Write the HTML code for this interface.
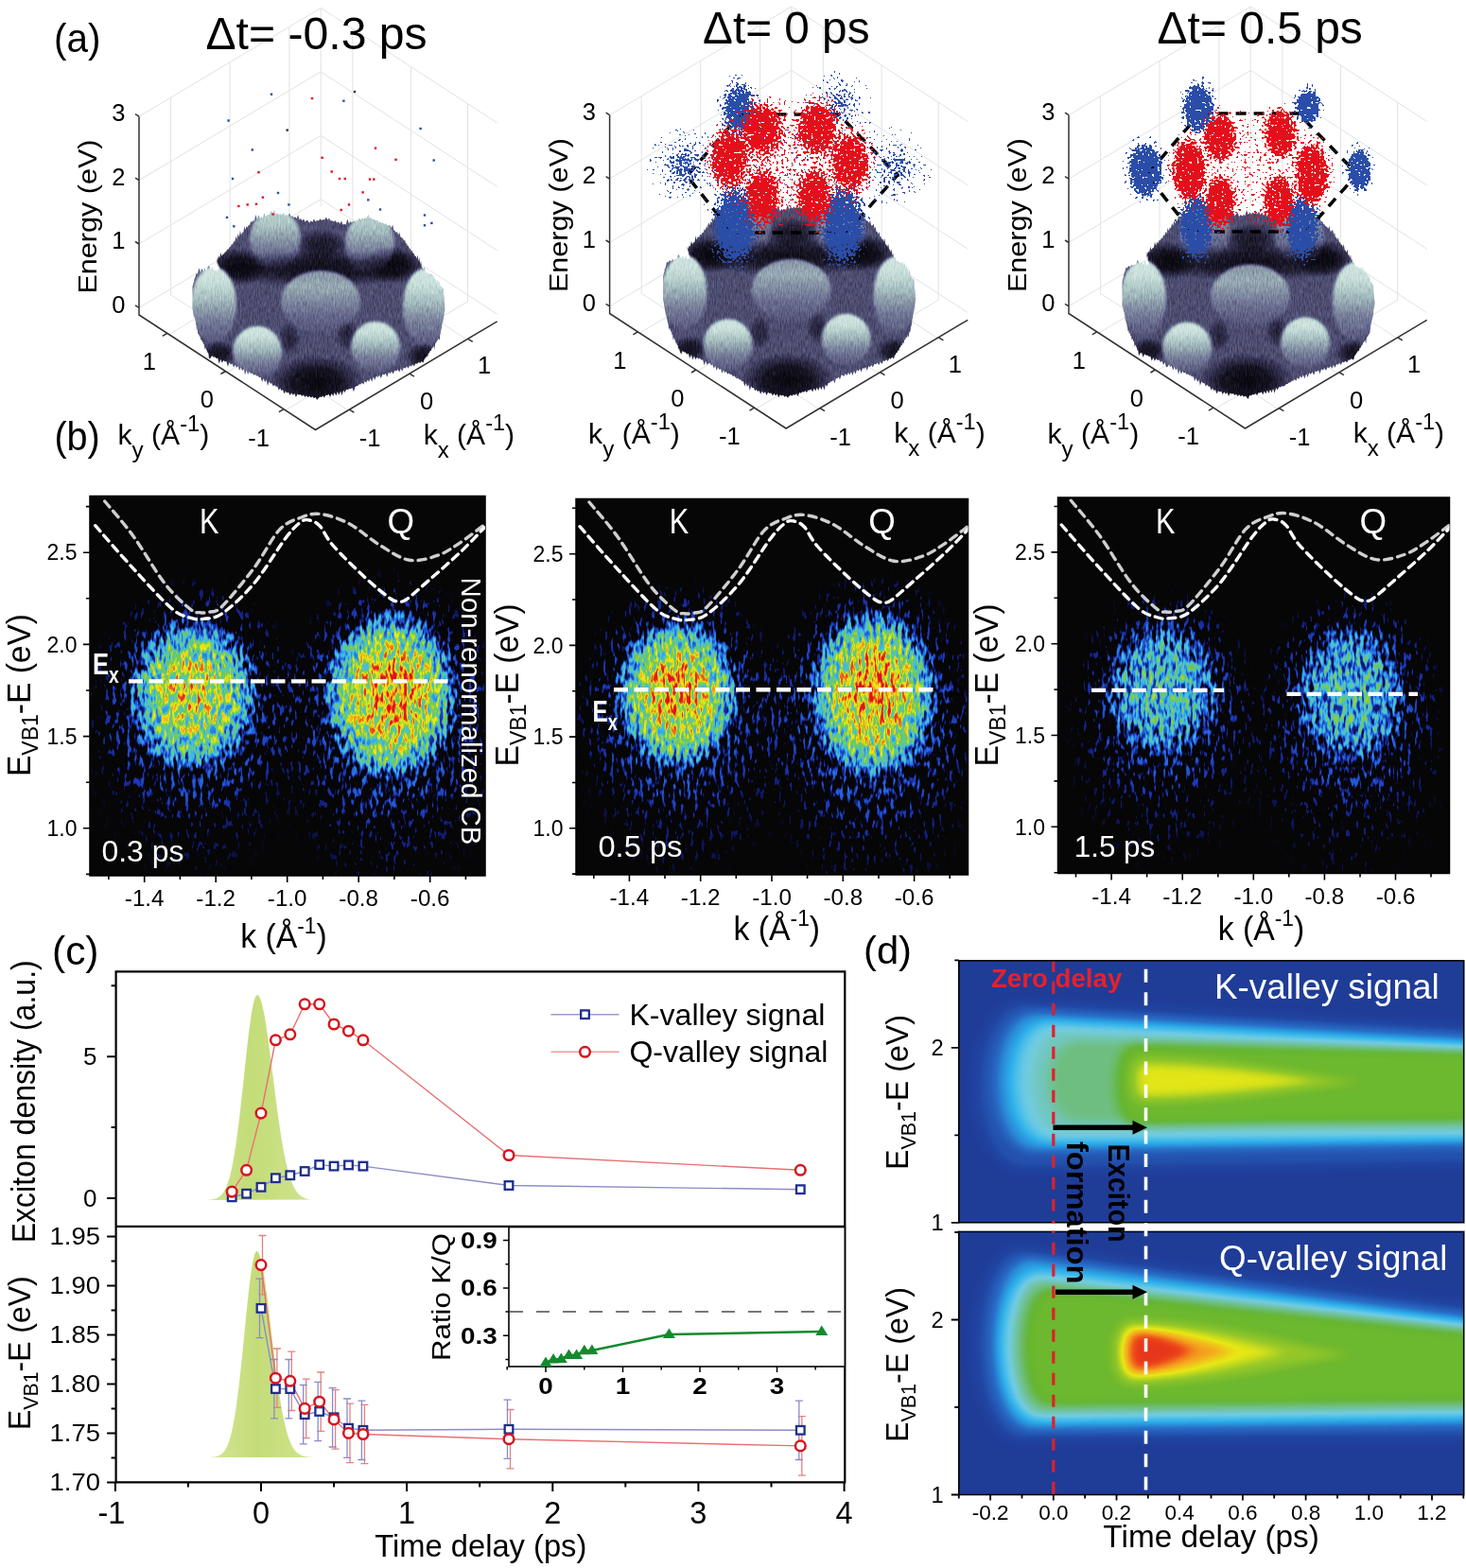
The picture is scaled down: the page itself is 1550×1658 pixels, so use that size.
<!DOCTYPE html>
<html><head><meta charset="utf-8"><title>Figure</title>
<style>
html,body{margin:0;padding:0;background:#fff;}
svg{display:block;}
text{font-family:"Liberation Sans", Arial, sans-serif;}
</style></head><body>
<svg width="1550" height="1658" viewBox="0 0 1550 1658">
<defs>
<linearGradient id="bump0" x1="0" y1="0" x2="0" y2="1"><stop offset="0.00" stop-color="#fff" stop-opacity="1.000"/><stop offset="0.20" stop-color="#fff" stop-opacity="0.930"/><stop offset="0.45" stop-color="#fff" stop-opacity="0.620"/><stop offset="0.70" stop-color="#fff" stop-opacity="0.300"/><stop offset="1.00" stop-color="#fff" stop-opacity="0.060"/></linearGradient>
<linearGradient id="bump1" x1="0" y1="0" x2="0" y2="1"><stop offset="0.00" stop-color="#fff" stop-opacity="0.800"/><stop offset="0.20" stop-color="#fff" stop-opacity="0.744"/><stop offset="0.45" stop-color="#fff" stop-opacity="0.496"/><stop offset="0.70" stop-color="#fff" stop-opacity="0.240"/><stop offset="1.00" stop-color="#fff" stop-opacity="0.048"/></linearGradient>
<linearGradient id="bump2" x1="0" y1="0" x2="0" y2="1"><stop offset="0.00" stop-color="#fff" stop-opacity="0.780"/><stop offset="0.20" stop-color="#fff" stop-opacity="0.725"/><stop offset="0.45" stop-color="#fff" stop-opacity="0.484"/><stop offset="0.70" stop-color="#fff" stop-opacity="0.234"/><stop offset="1.00" stop-color="#fff" stop-opacity="0.047"/></linearGradient>
<linearGradient id="bump3" x1="0" y1="0" x2="0" y2="1"><stop offset="0.00" stop-color="#fff" stop-opacity="0.640"/><stop offset="0.20" stop-color="#fff" stop-opacity="0.595"/><stop offset="0.45" stop-color="#fff" stop-opacity="0.397"/><stop offset="0.70" stop-color="#fff" stop-opacity="0.192"/><stop offset="1.00" stop-color="#fff" stop-opacity="0.038"/></linearGradient>
<linearGradient id="bump4" x1="0" y1="0" x2="0" y2="1"><stop offset="0.00" stop-color="#fff" stop-opacity="1.000"/><stop offset="0.20" stop-color="#fff" stop-opacity="0.930"/><stop offset="0.45" stop-color="#fff" stop-opacity="0.620"/><stop offset="0.70" stop-color="#fff" stop-opacity="0.300"/><stop offset="1.00" stop-color="#fff" stop-opacity="0.060"/></linearGradient>
<linearGradient id="bump5" x1="0" y1="0" x2="0" y2="1"><stop offset="0.00" stop-color="#fff" stop-opacity="1.000"/><stop offset="0.20" stop-color="#fff" stop-opacity="0.930"/><stop offset="0.45" stop-color="#fff" stop-opacity="0.620"/><stop offset="0.70" stop-color="#fff" stop-opacity="0.300"/><stop offset="1.00" stop-color="#fff" stop-opacity="0.060"/></linearGradient>
<linearGradient id="bump6" x1="0" y1="0" x2="0" y2="1"><stop offset="0.00" stop-color="#fff" stop-opacity="1.000"/><stop offset="0.20" stop-color="#fff" stop-opacity="0.930"/><stop offset="0.45" stop-color="#fff" stop-opacity="0.620"/><stop offset="0.70" stop-color="#fff" stop-opacity="0.300"/><stop offset="1.00" stop-color="#fff" stop-opacity="0.060"/></linearGradient>
<radialGradient id="dark"><stop offset="0.00" stop-color="#000" stop-opacity="1.000"/><stop offset="0.50" stop-color="#000" stop-opacity="0.750"/><stop offset="1.00" stop-color="#000" stop-opacity="0.000"/></radialGradient>
<filter id="bblur" x="-20%" y="-20%" width="140%" height="140%"><feGaussianBlur stdDeviation="1.6"/></filter>
<filter id="surf" filterUnits="userSpaceOnUse" x="190" y="200" width="295" height="230" color-interpolation-filters="sRGB"><feTurbulence type="fractalNoise" baseFrequency="0.9 0.16" numOctaves="2" seed="4" result="t"/><feColorMatrix in="t" type="matrix" values="1 0 0 0 0 1 0 0 0 0 1 0 0 0 0 0 0 0 0 1" result="n"/><feComposite in="SourceGraphic" in2="n" operator="arithmetic" k1="0" k2="1" k3="0.3" k4="-0.15" result="m"/><feComponentTransfer in="m"><feFuncR type="table" tableValues="0.039 0.054 0.069 0.083 0.105 0.127 0.150 0.173 0.196 0.225 0.253 0.282 0.310 0.338 0.364 0.390 0.415 0.441 0.466 0.492 0.517 0.543 0.569 0.596 0.622 0.648 0.674 0.699 0.725 0.750 0.775 0.799 0.824"/><feFuncG type="table" tableValues="0.031 0.046 0.061 0.075 0.097 0.120 0.142 0.165 0.188 0.218 0.249 0.279 0.309 0.339 0.370 0.401 0.431 0.463 0.497 0.531 0.564 0.600 0.636 0.673 0.710 0.746 0.771 0.795 0.820 0.843 0.863 0.882 0.902"/><feFuncB type="table" tableValues="0.055 0.079 0.104 0.128 0.162 0.198 0.234 0.270 0.306 0.342 0.378 0.414 0.450 0.484 0.510 0.537 0.563 0.587 0.604 0.621 0.639 0.659 0.683 0.707 0.730 0.754 0.772 0.790 0.809 0.827 0.847 0.867 0.886"/><feFuncA type="linear" slope="0" intercept="1"/></feComponentTransfer></filter>
<clipPath id="surfclip0"><path d="M203.5 302.6 L204 302 L204.5 298.8 L205 298.6 L205.4 294.2 L205.9 295.3 L206.4 292.8 L206.9 291.9 L207.4 289.1 L208.9 289.7 L210.4 283.4 L211.9 288.6 L213.4 283.7 L215 287.5 L216.5 284.1 L218 286.4 L219.5 283 L221 280.7 L222.6 285.6 L224.3 282.3 L225.9 286.1 L227.5 285.6 L229.1 286.7 L230.8 284.4 L232.4 285.9 L231.9 285.7 L231.3 279.6 L230.8 282.7 L230.3 277.8 L229.8 279.6 L229.2 274.8 L228.7 271.6 L229.9 275.4 L231 270.3 L232.2 273.1 L233.3 266.8 L234.5 270.8 L235.7 268.8 L236.8 268.5 L238 266.3 L239.1 266.2 L240.3 263.2 L241.4 263.7 L242.6 261.2 L243.7 261.1 L244.8 258.3 L246 258.5 L247.1 254.7 L248.2 256 L249.4 249.8 L250.5 253.4 L251.6 247 L252.8 250.8 L253.9 243.8 L255 248.2 L256.1 246 L257.3 245.6 L258.4 238.9 L259.5 243 L260.6 239.3 L261.8 240.5 L262.9 238.1 L264 237.9 L265.1 234.1 L266.3 235.3 L267.4 233.2 L268.9 233.4 L270.4 227.1 L271.9 232.2 L273.4 227.6 L274.9 231 L276.4 229.5 L277.8 229.9 L279.3 225.5 L280.8 228.7 L282.3 227.3 L283.8 227.5 L285.3 226.1 L286.8 222.9 L288.4 226.5 L290 221.9 L291.6 226.8 L293.2 224.9 L294.8 227.1 L296.5 226 L298.1 227.4 L299.7 225 L301.3 227.7 L302.9 226.9 L304.5 228 L306.1 225.5 L307.6 228.8 L309.1 228.6 L310.6 230 L312.1 229.3 L313.6 231.2 L315.1 227 L316.5 232.4 L318 231.1 L319.5 233.6 L321 231.3 L322.5 234.8 L324 233 L325.5 233.3 L327.1 235.7 L328.7 233.3 L330.3 235 L331.9 231.3 L333.5 234.4 L335.1 232.8 L336.8 233.7 L338.4 231.2 L340 233.1 L341.6 231.9 L343.2 232.4 L344.8 229.6 L346.4 232.6 L348 230.4 L349.6 233.6 L351.3 233.2 L352.9 234.5 L354.5 233.1 L356.1 235.5 L357.7 234.5 L359.4 236.5 L361 233.4 L362.6 237.4 L364.2 237.1 L365.8 237.4 L367.3 231.5 L368.9 236.5 L370.5 234.1 L372 235.5 L373.6 233.7 L375.2 234.5 L376.8 232.8 L378.3 233.6 L379.9 230.5 L381.5 232.6 L383 230.6 L384.6 231.6 L386.2 230.4 L387.7 230.7 L389.3 226.7 L390.9 230.8 L392.4 230.4 L394 232.1 L395.5 231.7 L397.1 233.4 L398.6 232.3 L400.2 234.7 L401.7 234.5 L403.3 236 L404.8 235.2 L406.4 237.2 L407.9 236.1 L409.5 238.5 L411 238.2 L412.6 238.4 L413.8 241 L415.1 237.6 L416.3 243.5 L417.5 243.7 L418.7 246 L420 245 L421.2 248.5 L422.4 245.6 L423.6 250.9 L424.9 251.2 L426.1 252.2 L427.1 254.7 L428 253.2 L429 257.4 L430 257.3 L430.9 260.1 L431.9 260.2 L432.9 262.7 L433.9 262.9 L434.8 265.4 L435.8 265 L436.8 268 L437.7 267.7 L438.7 270.7 L439.7 271.1 L440.6 273.4 L441.6 269.5 L442.5 276.2 L443.3 272 L444.2 279.2 L445 275.4 L445.9 282.2 L446.7 282.7 L447.6 285.2 L448.4 282.4 L449.3 285.2 L450.9 288.8 L452.4 288.1 L454 289.9 L455.5 289.5 L457.1 290.3 L458.1 292.5 L459 292.6 L460 295.2 L461 295.8 L461.9 298 L462.9 296.1 L463.9 300.7 L464.8 297.3 L465.8 303.5 L466.8 302.4 L467.7 306.2 L468.7 304 L468.9 309.2 L469 309.6 L469.2 312.4 L469.3 311.9 L469.5 315.6 L469.6 312 L469.8 318.9 L470 319.1 L470.1 320.5 L470.3 326.6 L470.4 323.7 L470.6 329.2 L470.3 326.9 L470 329.6 L469.7 330.2 L469.4 336 L469.1 333.5 L468.8 339 L468.5 336.7 L468.2 342.4 L467.9 340 L467.5 342.4 L467.2 343.2 L466.9 349.4 L466.6 346.5 L466.3 349.3 L466 349.8 L465.7 353.6 L465.4 353 L465.1 356.6 L464.8 360.1 L463.9 357.6 L463 359.8 L462.1 360.3 L461.1 362.5 L460.2 362.9 L459.3 369.8 L458.4 365.6 L457.5 367.7 L456.6 368.2 L455.6 370.9 L454.7 370.9 L453.8 373.6 L452.9 373.5 L452 377.4 L451.1 376.2 L450.1 378.5 L449.2 378.8 L448.3 381.1 L447.4 383.8 L445.8 382.1 L444.2 384.1 L442.7 383.1 L441.1 384.7 L439.5 384.2 L437.9 387.4 L436.4 385.4 L434.8 387.4 L433.2 386.4 L431.6 389.7 L430.1 387.6 L428.5 389.6 L426.9 388.7 L425.3 392.5 L423.8 389.8 L422.2 393.5 L420.6 390.8 L419 392.4 L417.4 391.8 L415.8 395.4 L414.1 392.7 L412.5 394.9 L410.9 393.7 L409.3 398.8 L407.7 394.7 L406.1 396.6 L404.5 395.6 L402.9 400 L401.3 396.6 L399.6 398.9 L398 397.6 L396.4 402.1 L394.8 398.5 L393.2 403.7 L391.7 399.8 L390.2 403.7 L388.7 401.4 L387.3 404.7 L385.8 403.1 L384.3 406.4 L382.8 404.7 L381.3 406.4 L379.8 406.3 L378.4 408 L376.9 408 L375.4 409.6 L373.9 414.3 L372.4 410 L370.8 411.3 L369.3 410.9 L367.7 412.2 L366.2 411.7 L364.6 415.2 L363.1 412.6 L361.5 418.3 L360 413.4 L358.4 417.8 L356.9 414.3 L355.3 418.4 L353.8 415.1 L352.2 418.9 L350.7 416 L349.1 420 L347.6 416.8 L346 418.1 L344.5 417.7 L342.9 420.5 L341.4 418.5 L339.8 420 L338.3 419.4 L336.7 420.9 L335.2 422.9 L333.6 419.9 L332 421.2 L330.4 419.3 L328.8 420.6 L327.2 418.8 L325.7 420.2 L324.1 418.2 L322.5 420 L320.9 417.6 L319.3 419 L317.7 417.1 L316.1 417.7 L314.5 416.5 L312.9 419.9 L311.3 415.9 L309.8 417.8 L308.2 415.4 L306.6 417.9 L305 414.8 L303.4 415.4 L301.9 413.7 L300.5 416.4 L299 412 L297.6 413.3 L296.1 410.3 L294.7 412.8 L293.2 408.6 L291.8 408.9 L290.3 406.9 L288.8 408.6 L287.4 405.2 L285.9 405.4 L284.5 403.5 L283 408 L281.6 401.8 L280.1 404.3 L278.6 400.3 L277.1 404 L275.6 398.8 L274.1 399.2 L272.6 397.3 L271.1 397.4 L269.6 395.9 L268.1 396.7 L266.6 394.4 L265.1 395.1 L263.6 393 L262.1 396 L260.6 391.5 L259.1 396.5 L257.6 390.1 L256.1 391.9 L254.6 388.6 L253.1 392.1 L251.6 387.1 L250.1 388.8 L248.6 385.8 L247 388.6 L245.5 384.6 L244 385.6 L242.4 383.3 L240.9 388.1 L239.4 382.1 L237.8 382.6 L236.3 380.9 L234.8 383.7 L233.3 379.7 L231.7 384.5 L230.2 378.5 L228.7 378.9 L227.1 377.2 L225.6 377.8 L224.1 376 L222.5 378.7 L221 379.3 L220.3 373.3 L219.6 373 L218.8 370.4 L218.1 370.3 L217.4 367.5 L216.7 369.5 L215.9 364.6 L215.2 364 L214.5 361.7 L213.8 361.5 L213 358.8 L212.3 359.8 L211.6 355.9 L210.8 355.2 L210.1 353 L209.4 353.3 L209 349.9 L208.7 349.2 L208.3 346.6 L207.9 350.3 L207.6 343.3 L207.2 344 L206.8 340 L206.4 339.6 L206.1 336.8 L205.7 336 L205.3 333.5 L205 336.8 L204.6 330.2 L204.2 333.8 L203.9 326.9 L203.5 329.1 L203.5 323.6 L203.5 323.2 L203.5 320.3 L203.5 317.3 L203.5 318.6 L203.5 315.8 L203.5 315.3 L203.5 308.2 L203.5 312 L203.5 308.1 L203.5 308.7 L203.5 305 L203.5 305.4Z"/></clipPath>
<g id="surface0"><g clip-path="url(#surfclip0)"><g filter="url(#surf)"><rect x="190" y="200" width="295" height="230" fill="#5e5e5e"/><ellipse cx="338" cy="284" rx="110" ry="20" fill="url(#dark)" opacity="0.85"/><ellipse cx="252" cy="282" rx="32" ry="20" fill="url(#dark)" opacity="1.00"/><ellipse cx="414" cy="280" rx="34" ry="20" fill="url(#dark)" opacity="1.00"/><ellipse cx="340" cy="260" rx="30" ry="18" fill="url(#dark)" opacity="0.70"/><ellipse cx="335" cy="405" rx="50" ry="30" fill="url(#dark)" opacity="1.00"/><ellipse cx="232" cy="374" rx="20" ry="14" fill="url(#dark)" opacity="0.80"/><ellipse cx="448" cy="376" rx="20" ry="14" fill="url(#dark)" opacity="0.80"/><ellipse cx="306" cy="358" rx="12" ry="18" fill="url(#dark)" opacity="0.50"/><ellipse cx="367" cy="354" rx="12" ry="18" fill="url(#dark)" opacity="0.50"/><ellipse cx="226" cy="322" rx="24" ry="40" fill="url(#bump0)" filter="url(#bblur)" opacity="1.00"/><ellipse cx="291" cy="253" rx="27" ry="31" fill="url(#bump1)" filter="url(#bblur)" opacity="1.00"/><ellipse cx="391" cy="257" rx="26" ry="31" fill="url(#bump2)" filter="url(#bblur)" opacity="1.00"/><ellipse cx="339" cy="319" rx="42" ry="33" fill="url(#bump3)" filter="url(#bblur)" opacity="1.00"/><ellipse cx="449" cy="325" rx="23" ry="41" fill="url(#bump4)" filter="url(#bblur)" opacity="1.00"/><ellipse cx="272" cy="372" rx="26" ry="27" fill="url(#bump5)" filter="url(#bblur)" opacity="1.00"/><ellipse cx="397" cy="367" rx="26" ry="27" fill="url(#bump6)" filter="url(#bblur)" opacity="1.00"/></g></g></g>
<clipPath id="surfclip1"><path d="M203.5 293.2 L203.9 292.7 L204.4 289.6 L204.8 289.4 L205.2 285.1 L205.7 286.2 L206.1 283.8 L206.5 283 L207 280.2 L207.4 278.6 L208.9 279.1 L210.4 276.6 L211.9 278 L213.4 275.4 L215 276.8 L216.5 275.3 L218 275.6 L219.5 270.4 L221 272.3 L222.6 274.7 L224.3 272 L225.9 275.3 L227.5 271.9 L229.1 275.9 L230.8 274.9 L232.4 275.7 L231.9 274.9 L231.3 271.5 L230.8 271.8 L230.3 265.6 L229.8 268.7 L229.2 262.1 L228.7 264 L229.9 264.4 L231 261.5 L232.2 262.1 L233.3 256.3 L234.5 259.8 L235.7 257.7 L236.8 257.5 L238 250.9 L239.1 255.2 L240.3 251.2 L241.4 252.7 L242.6 249.3 L243.7 250.1 L244.8 247.4 L246 247.5 L247.1 243.7 L248.2 245 L249.4 240.5 L250.5 242.4 L251.6 236.6 L252.8 239.8 L253.9 235.4 L255 237.2 L256.1 231.4 L257.3 234.6 L258.4 228.4 L259.5 232 L260.6 227.4 L261.8 229.5 L262.9 223.9 L264 226.9 L265.1 224.4 L266.3 224.3 L267.4 218.6 L268.9 222.4 L270.4 221 L271.9 221.2 L273.4 219 L274.9 220 L276.4 218.2 L277.8 218.9 L279.3 213.7 L280.8 217.7 L282.3 214.4 L283.8 216.5 L285.3 212.5 L286.8 214 L288.4 215.5 L290 210 L291.6 215.8 L293.2 210.1 L294.8 216.1 L296.5 215.4 L298.1 216.4 L299.7 215.8 L301.3 216.7 L302.9 215.3 L304.5 217 L306.1 216.3 L307.6 217.8 L309.1 213.8 L310.6 219 L312.1 214.2 L313.6 220.2 L315.1 219.3 L316.5 221.4 L318 219.8 L319.5 222.6 L321 220.6 L322.5 223.8 L324 221.7 L325.5 219.8 L327.1 224.7 L328.7 222.6 L330.3 224 L331.9 222.6 L333.5 223.4 L335.1 217.5 L336.8 222.7 L338.4 220.1 L340 222.1 L341.6 220.1 L343.2 221.4 L344.8 220.3 L346.4 221.6 L348 219.3 L349.6 222.6 L351.3 220.3 L352.9 223.5 L354.5 220.9 L356.1 224.5 L357.7 221.7 L359.4 225.5 L361 225.1 L362.6 226.4 L364.2 223.8 L365.8 226.4 L367.3 224.8 L368.9 225.5 L370.5 222.4 L372 224.5 L373.6 222.6 L375.2 223.5 L376.8 221.6 L378.3 222.6 L379.9 220.8 L381.5 221.6 L383 217.3 L384.6 220.6 L386.2 217.7 L387.7 219.7 L389.3 217.9 L390.9 219.8 L392.4 216.4 L394 221.1 L395.5 220.8 L397.1 222.4 L398.6 219.8 L400.2 223.7 L401.7 223 L403.3 225 L404.8 221.3 L406.4 226.2 L407.9 222.4 L409.5 227.5 L411 226.8 L412.6 225.9 L413.8 230 L415.1 229.5 L416.3 232.5 L417.5 232.9 L418.7 235 L420 235.2 L421.2 237.5 L422.4 234.4 L423.6 239.9 L424.9 240 L426.1 238.3 L427.1 243.7 L428 241 L429 246.4 L430 246.8 L430.9 249.1 L431.9 246.4 L432.9 251.7 L433.9 251.7 L434.8 254.4 L435.8 254 L436.8 257 L437.7 253.3 L438.7 259.7 L439.7 260.2 L440.6 262.4 L441.6 259 L442.5 265.2 L443.3 265 L444.2 268.3 L445 264.8 L445.9 271.4 L446.7 269.4 L447.6 274.5 L448.4 273 L449.3 275.4 L450.9 278.2 L452.4 277.4 L454 279.4 L455.5 279.2 L457.1 278.2 L458 282.1 L458.9 279.4 L459.8 284.8 L460.7 281.3 L461.6 287.5 L462.5 283.9 L463.3 290.3 L464.2 286.8 L465.1 293 L466 293.6 L466.9 295.8 L467.8 296.2 L468.7 297.3 L468.8 300.1 L469 299.6 L469.1 303.3 L469.3 299.7 L469.4 306.5 L469.6 306.8 L469.7 309.8 L469.9 306.9 L470 313 L470.2 310.7 L470.3 316.2 L470.5 316.8 L470.6 317.2 L470.3 319.4 L470 321.9 L469.8 322.6 L469.5 329.2 L469.2 325.8 L468.9 331.6 L468.7 329 L468.4 333.3 L468.1 332.1 L467.8 334.6 L467.6 335.3 L467.3 338.1 L467 338.5 L466.7 341.8 L466.5 341.7 L466.2 347.1 L465.9 344.9 L465.6 347.3 L465.4 348.1 L465.1 350.6 L464.8 352.1 L463.9 352.7 L463.1 358.5 L462.2 355.4 L461.3 358.8 L460.4 358.1 L459.6 360.8 L458.7 360.8 L457.8 365.1 L457 363.6 L456.1 366.4 L455.2 366.3 L454.4 369 L453.5 369 L452.6 372.7 L451.8 371.7 L450.9 374.6 L450 374.4 L449.1 376.8 L448.3 377.2 L447.4 381.2 L445.8 379.1 L444.2 381.2 L442.7 380.3 L441.1 383.6 L439.5 381.5 L437.9 383.6 L436.4 382.7 L434.8 386.6 L433.2 383.9 L431.6 387.7 L430.1 385.1 L428.5 386.8 L426.9 386.3 L425.3 390.1 L423.8 387.4 L422.2 389.7 L420.7 388.5 L419.1 393.7 L417.6 389.5 L416.1 391.5 L414.6 390.5 L413 394.9 L411.5 391.5 L410 393.9 L408.5 392.5 L406.9 397.1 L405.4 393.5 L403.9 398.7 L402.4 394.5 L400.8 398 L399.3 395.5 L397.8 398.4 L396.3 396.5 L394.7 399.5 L393.2 398.2 L391.8 398.3 L390.4 402.9 L389.1 399.9 L387.7 401.6 L386.3 401.5 L384.9 407 L383.5 403.2 L382.2 404.8 L380.8 404.8 L379.4 406.5 L378 406.4 L376.7 410.3 L375.3 408.1 L373.9 414.2 L372.4 409.4 L370.8 413.8 L369.3 410.3 L367.7 414.5 L366.2 411.2 L364.6 415 L363.1 412.1 L361.5 416.1 L360 413 L358.4 414.2 L356.9 413.9 L355.3 416.7 L353.8 414.8 L352.2 416.3 L350.7 415.7 L349.1 417.2 L347.6 416.6 L346 420.7 L344.5 417.5 L342.9 419.4 L341.4 418.4 L339.8 420.3 L338.3 419.3 L336.7 420.6 L335.2 422.3 L333.6 419.9 L332 421.3 L330.4 419.3 L328.8 419.9 L327.2 418.7 L325.7 422.1 L324.1 418.1 L322.5 419.9 L320.9 417.5 L319.3 420.1 L317.7 416.9 L316.1 417.5 L314.5 416.3 L312.9 419.6 L311.3 415.7 L309.8 417.5 L308.2 415.1 L306.6 418.2 L305 414.5 L303.4 415.4 L302 413.3 L300.7 415 L299.3 411.6 L297.9 411.8 L296.5 409.9 L295.2 414.4 L293.8 408.2 L292.4 410.6 L291.1 406.5 L289.7 410.1 L288.3 404.8 L287 405.1 L285.6 403 L284.2 403 L282.8 401.3 L281.5 402 L280.1 400.6 L278.7 398.9 L277.2 399.4 L275.8 397.4 L274.4 397.5 L273 395.9 L271.5 397.1 L270.1 394.3 L268.7 395.5 L267.2 392.8 L265.8 396.3 L264.4 391.3 L263 392.5 L261.5 389.8 L260.1 393.6 L258.7 388.3 L257.2 391.1 L255.8 386.8 L254.4 388 L253 385.3 L251.5 385.7 L250.1 387.2 L248.6 383.2 L247 387.9 L245.5 381.8 L244 382.3 L242.4 380.5 L240.9 381 L239.4 379.2 L237.8 381.8 L236.3 377.9 L234.8 382.1 L233.3 376.6 L231.7 380.5 L230.2 375.2 L228.7 376.3 L227.1 373.9 L225.6 374.1 L224.1 372.6 L222.5 376.2 L221 372.5 L220.3 369.8 L219.6 370.8 L219 366.8 L218.3 366.2 L217.6 363.9 L216.9 364.2 L216.2 360.9 L215.5 360.5 L214.9 358 L214.2 361.8 L213.5 355 L212.8 355.8 L212.1 352 L211.4 351.7 L210.8 349.1 L210.1 348.4 L209.4 350.8 L209.1 344.5 L208.7 343.8 L208.4 341.4 L208.1 341.3 L207.8 338.2 L207.4 340.3 L207.1 335.1 L206.8 336.6 L206.4 331.9 L206.1 334.4 L205.8 328.8 L205.5 330.9 L205.1 325.7 L204.8 327.1 L204.5 322.5 L204.2 321.8 L203.8 319.4 L203.5 318 L203.5 317.7 L203.5 312.9 L203.5 314.4 L203.5 311.7 L203.5 311 L203.5 306.6 L203.5 307.7 L203.5 301.3 L203.5 304.3 L203.5 301.8 L203.5 301 L203.5 298.4 L203.5 297.7 L203.5 292.6Z"/></clipPath>
<g id="surface1"><g clip-path="url(#surfclip1)"><g filter="url(#surf)"><rect x="190" y="200" width="295" height="230" fill="#5e5e5e"/><ellipse cx="338" cy="273.1" rx="110" ry="20" fill="url(#dark)" opacity="0.85"/><ellipse cx="252" cy="271" rx="32" ry="20" fill="url(#dark)" opacity="1.00"/><ellipse cx="414" cy="269" rx="34" ry="20" fill="url(#dark)" opacity="1.00"/><ellipse cx="340" cy="249" rx="30" ry="18" fill="url(#dark)" opacity="0.70"/><ellipse cx="335" cy="403.9" rx="50" ry="30" fill="url(#dark)" opacity="1.00"/><ellipse cx="232" cy="370.4" rx="20" ry="14" fill="url(#dark)" opacity="0.80"/><ellipse cx="448" cy="372.5" rx="20" ry="14" fill="url(#dark)" opacity="0.80"/><ellipse cx="306" cy="353.1" rx="12" ry="18" fill="url(#dark)" opacity="0.50"/><ellipse cx="367" cy="348.7" rx="12" ry="18" fill="url(#dark)" opacity="0.50"/><ellipse cx="226" cy="311" rx="24" ry="40" fill="url(#bump0)" filter="url(#bblur)" opacity="1.00"/><ellipse cx="291" cy="242" rx="27" ry="31" fill="url(#bump1)" filter="url(#bblur)" opacity="0.55"/><ellipse cx="391" cy="246" rx="26" ry="31" fill="url(#bump2)" filter="url(#bblur)" opacity="0.55"/><ellipse cx="339" cy="308.2" rx="42" ry="33" fill="url(#bump3)" filter="url(#bblur)" opacity="1.00"/><ellipse cx="449" cy="314.1" rx="23" ry="41" fill="url(#bump4)" filter="url(#bblur)" opacity="1.00"/><ellipse cx="272" cy="366" rx="26" ry="27" fill="url(#bump5)" filter="url(#bblur)" opacity="1.00"/><ellipse cx="397" cy="360.6" rx="26" ry="27" fill="url(#bump6)" filter="url(#bblur)" opacity="1.00"/></g></g></g>
<clipPath id="surfclip2"><path d="M203.5 298.3 L203.9 297.9 L204.4 294.8 L204.8 294.8 L205.2 290.5 L205.7 291.7 L206.1 289.3 L206.5 288.5 L207 285.9 L207.4 284.4 L208.9 284.9 L210.4 282.4 L211.9 283.7 L213.4 281.2 L215 282.6 L216.5 281.1 L218 281.5 L219.5 276.4 L221 278.2 L222.6 280.6 L224.3 277.9 L225.9 281.2 L227.5 277.8 L229.1 281.8 L230.8 280.8 L232.4 281.5 L231.9 280.8 L231.3 277.3 L230.8 277.7 L230.3 271.5 L229.8 274.7 L229.2 268.1 L228.7 270 L229.9 270.4 L231 267.5 L232.2 268.1 L233.3 262.3 L234.5 265.8 L235.7 263.7 L236.8 263.5 L238 256.9 L239.1 261.2 L240.3 257.2 L241.4 258.7 L242.6 255.3 L243.7 256.1 L244.8 253.4 L246 253.5 L247.1 249.7 L248.2 251 L249.4 246.5 L250.5 248.4 L251.6 242.6 L252.8 245.8 L253.9 241.4 L255 243.2 L256.1 237.4 L257.3 240.6 L258.4 234.4 L259.5 238 L260.6 233.4 L261.8 235.5 L262.9 229.9 L264 232.9 L265.1 230.4 L266.3 230.3 L267.4 224.6 L268.9 228.4 L270.4 227 L271.9 227.2 L273.4 225 L274.9 226 L276.4 224.2 L277.8 224.9 L279.3 219.7 L280.8 223.7 L282.3 220.4 L283.8 222.5 L285.3 218.5 L286.8 220 L288.4 221.5 L290 216 L291.6 221.8 L293.2 216.1 L294.8 222.1 L296.5 221.4 L298.1 222.4 L299.7 221.8 L301.3 222.7 L302.9 221.3 L304.5 223 L306.1 222.3 L307.6 223.8 L309.1 219.8 L310.6 225 L312.1 220.2 L313.6 226.2 L315.1 225.3 L316.5 227.4 L318 225.8 L319.5 228.6 L321 226.6 L322.5 229.8 L324 227.7 L325.5 225.8 L327.1 230.7 L328.7 228.6 L330.3 230 L331.9 228.6 L333.5 229.4 L335.1 223.5 L336.8 228.7 L338.4 226.1 L340 228.1 L341.6 226.1 L343.2 227.4 L344.8 226.3 L346.4 227.6 L348 225.3 L349.6 228.6 L351.3 226.3 L352.9 229.5 L354.5 226.9 L356.1 230.5 L357.7 227.7 L359.4 231.5 L361 231.1 L362.6 232.4 L364.2 229.8 L365.8 232.4 L367.3 230.8 L368.9 231.5 L370.5 228.4 L372 230.5 L373.6 228.6 L375.2 229.5 L376.8 227.6 L378.3 228.6 L379.9 226.8 L381.5 227.6 L383 223.3 L384.6 226.6 L386.2 223.7 L387.7 225.7 L389.3 223.9 L390.9 225.8 L392.4 222.4 L394 227.1 L395.5 226.8 L397.1 228.4 L398.6 225.8 L400.2 229.7 L401.7 229 L403.3 231 L404.8 227.3 L406.4 232.2 L407.9 228.4 L409.5 233.5 L411 232.8 L412.6 231.9 L413.8 236 L415.1 235.5 L416.3 238.5 L417.5 238.9 L418.7 241 L420 241.2 L421.2 243.5 L422.4 240.4 L423.6 245.9 L424.9 246 L426.1 244.3 L427.1 249.7 L428 247 L429 252.4 L430 252.8 L430.9 255.1 L431.9 252.4 L432.9 257.7 L433.9 257.7 L434.8 260.4 L435.8 260 L436.8 263 L437.7 259.3 L438.7 265.7 L439.7 266.2 L440.6 268.4 L441.6 265 L442.5 271.2 L443.3 271 L444.2 274.3 L445 270.7 L445.9 277.3 L446.7 275.2 L447.6 280.3 L448.4 278.8 L449.3 281.2 L450.9 284 L452.4 283.2 L454 285.2 L455.5 284.9 L457.1 283.8 L458.1 287.8 L459 285.1 L460 290.6 L461 287.2 L461.9 293.5 L462.9 289.9 L463.9 296.3 L464.8 292.9 L465.8 299.2 L466.8 299.8 L467.7 302 L468.7 302.5 L468.9 305.1 L469 303.8 L469.2 308.5 L469.3 308.5 L469.5 311.8 L469.6 310.8 L469.8 315.1 L470 315.7 L470.1 318.5 L470.3 318.2 L470.4 320.2 L470.6 323.3 L470.3 323.5 L470 327.3 L469.7 326.7 L469.4 329.3 L469.2 329.9 L468.9 336.6 L468.6 333.1 L468.3 338.9 L468 336.3 L467.7 340.7 L467.4 339.6 L467.1 342 L466.8 342.8 L466.5 345.5 L466.2 346 L466 349.3 L465.7 349.2 L465.4 354.6 L465.1 352.4 L464.8 354.8 L463.9 355.4 L463 357.7 L462.1 358.1 L461.1 365.1 L460.2 360.9 L459.3 363.1 L458.4 363.6 L457.5 366.3 L456.6 366.4 L455.6 369.2 L454.7 369.2 L453.8 373 L452.9 371.9 L452 374.3 L451.1 374.7 L450.1 376.9 L449.2 377.4 L448.3 382.1 L447.4 381.7 L445.8 380.7 L444.2 382.3 L442.7 381.9 L441.1 385.1 L439.5 383 L437.9 385.1 L436.4 384.1 L434.8 387.5 L433.2 385.3 L431.6 387.3 L430.1 386.4 L428.5 390.3 L426.9 387.6 L425.3 391.3 L423.8 388.7 L422.2 390.4 L420.6 389.8 L419 393.5 L417.4 390.8 L415.8 393 L414.1 391.8 L412.5 396.9 L410.9 392.8 L409.3 394.8 L407.7 393.8 L406.1 398.2 L404.5 394.8 L402.9 397.2 L401.3 395.8 L399.6 400.4 L398 396.8 L396.4 402 L394.8 397.8 L393.2 401.3 L391.7 399.1 L390.2 402.4 L388.7 400.8 L387.3 404.2 L385.8 402.5 L384.3 404.3 L382.8 404.2 L381.3 405.9 L379.8 405.9 L378.4 407.6 L376.9 407.6 L375.4 409.4 L373.9 410.1 L372.4 409.7 L370.8 411 L369.3 410.6 L367.7 414.1 L366.2 411.5 L364.6 417.2 L363.1 412.3 L361.5 416.8 L360 413.2 L358.4 417.4 L356.9 414.1 L355.3 417.9 L353.8 415 L352.2 419 L350.7 415.8 L349.1 417.1 L347.6 416.7 L346 419.5 L344.5 417.6 L342.9 419.1 L341.4 418.5 L339.8 420 L338.3 419.3 L336.7 423.4 L335.2 421.8 L333.6 419.9 L332 421.2 L330.4 419.3 L328.8 420.7 L327.2 418.7 L325.7 420.5 L324.1 418.2 L322.5 419.5 L320.9 417.6 L319.3 418.2 L317.7 417 L316.1 420.4 L314.5 416.4 L312.9 418.3 L311.3 415.8 L309.8 418.4 L308.2 415.2 L306.6 415.9 L305 414.7 L303.4 418 L301.9 413.5 L300.5 414.8 L299 411.7 L297.6 414.2 L296.1 410 L294.7 410.3 L293.2 408.2 L291.8 409.9 L290.3 406.5 L288.8 406.7 L287.4 404.7 L285.9 409.2 L284.5 403 L283 405.4 L281.6 401.2 L280.1 404.8 L278.7 399.6 L277.2 400.1 L275.8 398.2 L274.4 398.3 L273 396.8 L271.5 397.6 L270.1 395.3 L268.7 396.1 L267.2 393.9 L265.8 397 L264.4 392.4 L263 397.4 L261.5 391 L260.1 392.9 L258.7 389.6 L257.2 393.1 L255.8 388.1 L254.4 389.7 L253 386.7 L251.5 389.3 L250.1 389.7 L248.6 384.6 L247 387.5 L245.5 383.3 L244 384.6 L242.4 382.1 L240.9 382.5 L239.4 380.8 L237.8 383.2 L236.3 379.5 L234.8 383.3 L233.3 378.3 L231.7 378.6 L230.2 377 L228.7 377.3 L227.1 375.7 L225.6 379.6 L224.1 374.5 L222.5 375 L221 377.7 L220.3 371.7 L219.6 371.9 L218.8 368.7 L218.1 368 L217.4 365.7 L216.7 368.4 L215.9 362.6 L215.2 362.6 L214.5 359.6 L213.8 361.2 L213 356.6 L212.3 356.4 L211.6 353.6 L210.8 354 L210.1 350.6 L209.4 351.6 L209.1 347.4 L208.7 347.4 L208.4 344.3 L208 343.5 L207.7 341.1 L207.3 342.5 L207 337.9 L206.6 341 L206.3 334.7 L205.9 333.9 L205.6 331.5 L205.2 331.4 L204.9 328.3 L204.5 330.3 L204.2 325.1 L203.8 326.6 L203.5 324.8 L203.5 320.3 L203.5 319.1 L203.5 318.7 L203.5 311.6 L203.5 315.5 L203.5 311.6 L203.5 312.3 L203.5 308.6 L203.5 309.1 L203.5 304.1 L203.5 305.8 L203.5 301.8 L203.5 302.6 L203.5 298.2Z"/></clipPath>
<g id="surface2"><g clip-path="url(#surfclip2)"><g filter="url(#surf)"><rect x="190" y="200" width="295" height="230" fill="#5e5e5e"/><ellipse cx="338" cy="279" rx="110" ry="20" fill="url(#dark)" opacity="0.85"/><ellipse cx="252" cy="277" rx="32" ry="20" fill="url(#dark)" opacity="1.00"/><ellipse cx="414" cy="275" rx="34" ry="20" fill="url(#dark)" opacity="1.00"/><ellipse cx="340" cy="255" rx="30" ry="18" fill="url(#dark)" opacity="0.70"/><ellipse cx="335" cy="404.5" rx="50" ry="30" fill="url(#dark)" opacity="1.00"/><ellipse cx="232" cy="372.3" rx="20" ry="14" fill="url(#dark)" opacity="0.80"/><ellipse cx="448" cy="374.4" rx="20" ry="14" fill="url(#dark)" opacity="0.80"/><ellipse cx="306" cy="355.8" rx="12" ry="18" fill="url(#dark)" opacity="0.50"/><ellipse cx="367" cy="351.6" rx="12" ry="18" fill="url(#dark)" opacity="0.50"/><ellipse cx="226" cy="317" rx="24" ry="40" fill="url(#bump0)" filter="url(#bblur)" opacity="1.00"/><ellipse cx="291" cy="248" rx="27" ry="31" fill="url(#bump1)" filter="url(#bblur)" opacity="0.55"/><ellipse cx="391" cy="252" rx="26" ry="31" fill="url(#bump2)" filter="url(#bblur)" opacity="0.55"/><ellipse cx="339" cy="314.1" rx="42" ry="33" fill="url(#bump3)" filter="url(#bblur)" opacity="1.00"/><ellipse cx="449" cy="320" rx="23" ry="41" fill="url(#bump4)" filter="url(#bblur)" opacity="1.00"/><ellipse cx="272" cy="369.3" rx="26" ry="27" fill="url(#bump5)" filter="url(#bblur)" opacity="1.00"/><ellipse cx="397" cy="364.1" rx="26" ry="27" fill="url(#bump6)" filter="url(#bblur)" opacity="1.00"/></g></g></g>
<filter id="sc00" filterUnits="userSpaceOnUse" x="670" y="40" width="320" height="260" color-interpolation-filters="sRGB"><feTurbulence type="fractalNoise" baseFrequency="0.38" numOctaves="1" seed="21" result="t"/><feColorMatrix in="t" type="matrix" values="0 0 0 0 0 0 0 0 0 0 0 0 0 0 0 2.6 0 0 0 -0.8" result="na"/><feComposite in="SourceAlpha" in2="na" operator="arithmetic" k1="0" k2="1" k3="-1" k4="0.46" result="d"/><feComponentTransfer in="d" result="th"><feFuncA type="discrete" tableValues="0 1"/></feComponentTransfer><feFlood flood-color="#2a4da8"/><feComposite operator="in" in2="th"/></filter>
<radialGradient id="sd000"><stop offset="0.000" stop-color="#000" stop-opacity="0.130"/><stop offset="0.300" stop-color="#000" stop-opacity="0.111"/><stop offset="0.550" stop-color="#000" stop-opacity="0.065"/><stop offset="0.750" stop-color="#000" stop-opacity="0.029"/><stop offset="0.900" stop-color="#000" stop-opacity="0.009"/><stop offset="1.000" stop-color="#000" stop-opacity="0.000"/></radialGradient>
<radialGradient id="sd001"><stop offset="0.000" stop-color="#000" stop-opacity="0.130"/><stop offset="0.300" stop-color="#000" stop-opacity="0.111"/><stop offset="0.550" stop-color="#000" stop-opacity="0.065"/><stop offset="0.750" stop-color="#000" stop-opacity="0.029"/><stop offset="0.900" stop-color="#000" stop-opacity="0.009"/><stop offset="1.000" stop-color="#000" stop-opacity="0.000"/></radialGradient>
<radialGradient id="sd002"><stop offset="0.000" stop-color="#000" stop-opacity="0.130"/><stop offset="0.300" stop-color="#000" stop-opacity="0.111"/><stop offset="0.550" stop-color="#000" stop-opacity="0.065"/><stop offset="0.750" stop-color="#000" stop-opacity="0.029"/><stop offset="0.900" stop-color="#000" stop-opacity="0.009"/><stop offset="1.000" stop-color="#000" stop-opacity="0.000"/></radialGradient>
<radialGradient id="sd003"><stop offset="0.000" stop-color="#000" stop-opacity="0.130"/><stop offset="0.300" stop-color="#000" stop-opacity="0.111"/><stop offset="0.550" stop-color="#000" stop-opacity="0.065"/><stop offset="0.750" stop-color="#000" stop-opacity="0.029"/><stop offset="0.900" stop-color="#000" stop-opacity="0.009"/><stop offset="1.000" stop-color="#000" stop-opacity="0.000"/></radialGradient>
<radialGradient id="sd004"><stop offset="0.000" stop-color="#000" stop-opacity="0.130"/><stop offset="0.300" stop-color="#000" stop-opacity="0.111"/><stop offset="0.550" stop-color="#000" stop-opacity="0.065"/><stop offset="0.750" stop-color="#000" stop-opacity="0.029"/><stop offset="0.900" stop-color="#000" stop-opacity="0.009"/><stop offset="1.000" stop-color="#000" stop-opacity="0.000"/></radialGradient>
<radialGradient id="sd005"><stop offset="0.000" stop-color="#000" stop-opacity="0.130"/><stop offset="0.300" stop-color="#000" stop-opacity="0.111"/><stop offset="0.550" stop-color="#000" stop-opacity="0.065"/><stop offset="0.750" stop-color="#000" stop-opacity="0.029"/><stop offset="0.900" stop-color="#000" stop-opacity="0.009"/><stop offset="1.000" stop-color="#000" stop-opacity="0.000"/></radialGradient>
<radialGradient id="sd006"><stop offset="0.000" stop-color="#000" stop-opacity="0.900"/><stop offset="0.400" stop-color="#000" stop-opacity="0.900"/><stop offset="0.550" stop-color="#000" stop-opacity="0.630"/><stop offset="0.680" stop-color="#000" stop-opacity="0.342"/><stop offset="0.800" stop-color="#000" stop-opacity="0.144"/><stop offset="0.900" stop-color="#000" stop-opacity="0.045"/><stop offset="1.000" stop-color="#000" stop-opacity="0.000"/></radialGradient>
<radialGradient id="sd007"><stop offset="0.000" stop-color="#000" stop-opacity="0.450"/><stop offset="0.300" stop-color="#000" stop-opacity="0.383"/><stop offset="0.550" stop-color="#000" stop-opacity="0.225"/><stop offset="0.750" stop-color="#000" stop-opacity="0.099"/><stop offset="0.900" stop-color="#000" stop-opacity="0.032"/><stop offset="1.000" stop-color="#000" stop-opacity="0.000"/></radialGradient>
<radialGradient id="sd008"><stop offset="0.000" stop-color="#000" stop-opacity="0.600"/><stop offset="0.300" stop-color="#000" stop-opacity="0.510"/><stop offset="0.550" stop-color="#000" stop-opacity="0.300"/><stop offset="0.750" stop-color="#000" stop-opacity="0.132"/><stop offset="0.900" stop-color="#000" stop-opacity="0.042"/><stop offset="1.000" stop-color="#000" stop-opacity="0.000"/></radialGradient>
<radialGradient id="sd009"><stop offset="0.000" stop-color="#000" stop-opacity="0.420"/><stop offset="0.300" stop-color="#000" stop-opacity="0.357"/><stop offset="0.550" stop-color="#000" stop-opacity="0.210"/><stop offset="0.750" stop-color="#000" stop-opacity="0.092"/><stop offset="0.900" stop-color="#000" stop-opacity="0.029"/><stop offset="1.000" stop-color="#000" stop-opacity="0.000"/></radialGradient>
<radialGradient id="sd0010"><stop offset="0.000" stop-color="#000" stop-opacity="1.000"/><stop offset="0.400" stop-color="#000" stop-opacity="1.000"/><stop offset="0.550" stop-color="#000" stop-opacity="0.910"/><stop offset="0.680" stop-color="#000" stop-opacity="0.494"/><stop offset="0.800" stop-color="#000" stop-opacity="0.208"/><stop offset="0.900" stop-color="#000" stop-opacity="0.065"/><stop offset="1.000" stop-color="#000" stop-opacity="0.000"/></radialGradient>
<radialGradient id="sd0011"><stop offset="0.000" stop-color="#000" stop-opacity="1.000"/><stop offset="0.400" stop-color="#000" stop-opacity="1.000"/><stop offset="0.550" stop-color="#000" stop-opacity="0.910"/><stop offset="0.680" stop-color="#000" stop-opacity="0.494"/><stop offset="0.800" stop-color="#000" stop-opacity="0.208"/><stop offset="0.900" stop-color="#000" stop-opacity="0.065"/><stop offset="1.000" stop-color="#000" stop-opacity="0.000"/></radialGradient>
<radialGradient id="sd0012"><stop offset="0.000" stop-color="#000" stop-opacity="0.050"/><stop offset="0.300" stop-color="#000" stop-opacity="0.043"/><stop offset="0.550" stop-color="#000" stop-opacity="0.025"/><stop offset="0.750" stop-color="#000" stop-opacity="0.011"/><stop offset="0.900" stop-color="#000" stop-opacity="0.004"/><stop offset="1.000" stop-color="#000" stop-opacity="0.000"/></radialGradient>
<filter id="sc01" filterUnits="userSpaceOnUse" x="670" y="40" width="320" height="260" color-interpolation-filters="sRGB"><feTurbulence type="fractalNoise" baseFrequency="0.38" numOctaves="1" seed="28" result="t"/><feColorMatrix in="t" type="matrix" values="0 0 0 0 0 0 0 0 0 0 0 0 0 0 0 2.6 0 0 0 -0.8" result="na"/><feComposite in="SourceAlpha" in2="na" operator="arithmetic" k1="0" k2="1" k3="-1" k4="0.46" result="d"/><feComponentTransfer in="d" result="th"><feFuncA type="discrete" tableValues="0 1"/></feComponentTransfer><feFlood flood-color="#e3101c"/><feComposite operator="in" in2="th"/></filter>
<radialGradient id="sd010"><stop offset="0.000" stop-color="#000" stop-opacity="0.120"/><stop offset="0.300" stop-color="#000" stop-opacity="0.102"/><stop offset="0.550" stop-color="#000" stop-opacity="0.060"/><stop offset="0.750" stop-color="#000" stop-opacity="0.026"/><stop offset="0.900" stop-color="#000" stop-opacity="0.008"/><stop offset="1.000" stop-color="#000" stop-opacity="0.000"/></radialGradient>
<radialGradient id="sd011"><stop offset="0.000" stop-color="#000" stop-opacity="0.120"/><stop offset="0.300" stop-color="#000" stop-opacity="0.102"/><stop offset="0.550" stop-color="#000" stop-opacity="0.060"/><stop offset="0.750" stop-color="#000" stop-opacity="0.026"/><stop offset="0.900" stop-color="#000" stop-opacity="0.008"/><stop offset="1.000" stop-color="#000" stop-opacity="0.000"/></radialGradient>
<radialGradient id="sd012"><stop offset="0.000" stop-color="#000" stop-opacity="0.120"/><stop offset="0.300" stop-color="#000" stop-opacity="0.102"/><stop offset="0.550" stop-color="#000" stop-opacity="0.060"/><stop offset="0.750" stop-color="#000" stop-opacity="0.026"/><stop offset="0.900" stop-color="#000" stop-opacity="0.008"/><stop offset="1.000" stop-color="#000" stop-opacity="0.000"/></radialGradient>
<radialGradient id="sd013"><stop offset="0.000" stop-color="#000" stop-opacity="0.120"/><stop offset="0.300" stop-color="#000" stop-opacity="0.102"/><stop offset="0.550" stop-color="#000" stop-opacity="0.060"/><stop offset="0.750" stop-color="#000" stop-opacity="0.026"/><stop offset="0.900" stop-color="#000" stop-opacity="0.008"/><stop offset="1.000" stop-color="#000" stop-opacity="0.000"/></radialGradient>
<radialGradient id="sd014"><stop offset="0.000" stop-color="#000" stop-opacity="0.120"/><stop offset="0.300" stop-color="#000" stop-opacity="0.102"/><stop offset="0.550" stop-color="#000" stop-opacity="0.060"/><stop offset="0.750" stop-color="#000" stop-opacity="0.026"/><stop offset="0.900" stop-color="#000" stop-opacity="0.008"/><stop offset="1.000" stop-color="#000" stop-opacity="0.000"/></radialGradient>
<radialGradient id="sd015"><stop offset="0.000" stop-color="#000" stop-opacity="0.120"/><stop offset="0.300" stop-color="#000" stop-opacity="0.102"/><stop offset="0.550" stop-color="#000" stop-opacity="0.060"/><stop offset="0.750" stop-color="#000" stop-opacity="0.026"/><stop offset="0.900" stop-color="#000" stop-opacity="0.008"/><stop offset="1.000" stop-color="#000" stop-opacity="0.000"/></radialGradient>
<radialGradient id="sd016"><stop offset="0.000" stop-color="#000" stop-opacity="1.000"/><stop offset="0.400" stop-color="#000" stop-opacity="1.000"/><stop offset="0.550" stop-color="#000" stop-opacity="0.735"/><stop offset="0.680" stop-color="#000" stop-opacity="0.399"/><stop offset="0.800" stop-color="#000" stop-opacity="0.168"/><stop offset="0.900" stop-color="#000" stop-opacity="0.053"/><stop offset="1.000" stop-color="#000" stop-opacity="0.000"/></radialGradient>
<radialGradient id="sd017"><stop offset="0.000" stop-color="#000" stop-opacity="1.000"/><stop offset="0.400" stop-color="#000" stop-opacity="1.000"/><stop offset="0.550" stop-color="#000" stop-opacity="0.735"/><stop offset="0.680" stop-color="#000" stop-opacity="0.399"/><stop offset="0.800" stop-color="#000" stop-opacity="0.168"/><stop offset="0.900" stop-color="#000" stop-opacity="0.053"/><stop offset="1.000" stop-color="#000" stop-opacity="0.000"/></radialGradient>
<radialGradient id="sd018"><stop offset="0.000" stop-color="#000" stop-opacity="1.000"/><stop offset="0.400" stop-color="#000" stop-opacity="1.000"/><stop offset="0.550" stop-color="#000" stop-opacity="0.735"/><stop offset="0.680" stop-color="#000" stop-opacity="0.399"/><stop offset="0.800" stop-color="#000" stop-opacity="0.168"/><stop offset="0.900" stop-color="#000" stop-opacity="0.053"/><stop offset="1.000" stop-color="#000" stop-opacity="0.000"/></radialGradient>
<radialGradient id="sd019"><stop offset="0.000" stop-color="#000" stop-opacity="1.000"/><stop offset="0.400" stop-color="#000" stop-opacity="1.000"/><stop offset="0.550" stop-color="#000" stop-opacity="0.735"/><stop offset="0.680" stop-color="#000" stop-opacity="0.399"/><stop offset="0.800" stop-color="#000" stop-opacity="0.168"/><stop offset="0.900" stop-color="#000" stop-opacity="0.053"/><stop offset="1.000" stop-color="#000" stop-opacity="0.000"/></radialGradient>
<radialGradient id="sd0110"><stop offset="0.000" stop-color="#000" stop-opacity="1.000"/><stop offset="0.400" stop-color="#000" stop-opacity="1.000"/><stop offset="0.550" stop-color="#000" stop-opacity="0.735"/><stop offset="0.680" stop-color="#000" stop-opacity="0.399"/><stop offset="0.800" stop-color="#000" stop-opacity="0.168"/><stop offset="0.900" stop-color="#000" stop-opacity="0.053"/><stop offset="1.000" stop-color="#000" stop-opacity="0.000"/></radialGradient>
<radialGradient id="sd0111"><stop offset="0.000" stop-color="#000" stop-opacity="1.000"/><stop offset="0.400" stop-color="#000" stop-opacity="1.000"/><stop offset="0.550" stop-color="#000" stop-opacity="0.735"/><stop offset="0.680" stop-color="#000" stop-opacity="0.399"/><stop offset="0.800" stop-color="#000" stop-opacity="0.168"/><stop offset="0.900" stop-color="#000" stop-opacity="0.053"/><stop offset="1.000" stop-color="#000" stop-opacity="0.000"/></radialGradient>
<radialGradient id="sd0112"><stop offset="0.000" stop-color="#000" stop-opacity="0.160"/><stop offset="0.300" stop-color="#000" stop-opacity="0.136"/><stop offset="0.550" stop-color="#000" stop-opacity="0.080"/><stop offset="0.750" stop-color="#000" stop-opacity="0.035"/><stop offset="0.900" stop-color="#000" stop-opacity="0.011"/><stop offset="1.000" stop-color="#000" stop-opacity="0.000"/></radialGradient>
<radialGradient id="sd0113"><stop offset="0.000" stop-color="#000" stop-opacity="0.070"/><stop offset="0.300" stop-color="#000" stop-opacity="0.060"/><stop offset="0.550" stop-color="#000" stop-opacity="0.035"/><stop offset="0.750" stop-color="#000" stop-opacity="0.015"/><stop offset="0.900" stop-color="#000" stop-opacity="0.005"/><stop offset="1.000" stop-color="#000" stop-opacity="0.000"/></radialGradient>
<filter id="sc10" filterUnits="userSpaceOnUse" x="1156" y="40" width="320" height="260" color-interpolation-filters="sRGB"><feTurbulence type="fractalNoise" baseFrequency="0.38" numOctaves="1" seed="31" result="t"/><feColorMatrix in="t" type="matrix" values="0 0 0 0 0 0 0 0 0 0 0 0 0 0 0 2.6 0 0 0 -0.8" result="na"/><feComposite in="SourceAlpha" in2="na" operator="arithmetic" k1="0" k2="1" k3="-1" k4="0.46" result="d"/><feComponentTransfer in="d" result="th"><feFuncA type="discrete" tableValues="0 1"/></feComponentTransfer><feFlood flood-color="#2a4da8"/><feComposite operator="in" in2="th"/></filter>
<radialGradient id="sd100"><stop offset="0.000" stop-color="#000" stop-opacity="0.100"/><stop offset="0.300" stop-color="#000" stop-opacity="0.085"/><stop offset="0.550" stop-color="#000" stop-opacity="0.050"/><stop offset="0.750" stop-color="#000" stop-opacity="0.022"/><stop offset="0.900" stop-color="#000" stop-opacity="0.007"/><stop offset="1.000" stop-color="#000" stop-opacity="0.000"/></radialGradient>
<radialGradient id="sd101"><stop offset="0.000" stop-color="#000" stop-opacity="0.100"/><stop offset="0.300" stop-color="#000" stop-opacity="0.085"/><stop offset="0.550" stop-color="#000" stop-opacity="0.050"/><stop offset="0.750" stop-color="#000" stop-opacity="0.022"/><stop offset="0.900" stop-color="#000" stop-opacity="0.007"/><stop offset="1.000" stop-color="#000" stop-opacity="0.000"/></radialGradient>
<radialGradient id="sd102"><stop offset="0.000" stop-color="#000" stop-opacity="0.100"/><stop offset="0.300" stop-color="#000" stop-opacity="0.085"/><stop offset="0.550" stop-color="#000" stop-opacity="0.050"/><stop offset="0.750" stop-color="#000" stop-opacity="0.022"/><stop offset="0.900" stop-color="#000" stop-opacity="0.007"/><stop offset="1.000" stop-color="#000" stop-opacity="0.000"/></radialGradient>
<radialGradient id="sd103"><stop offset="0.000" stop-color="#000" stop-opacity="0.100"/><stop offset="0.300" stop-color="#000" stop-opacity="0.085"/><stop offset="0.550" stop-color="#000" stop-opacity="0.050"/><stop offset="0.750" stop-color="#000" stop-opacity="0.022"/><stop offset="0.900" stop-color="#000" stop-opacity="0.007"/><stop offset="1.000" stop-color="#000" stop-opacity="0.000"/></radialGradient>
<radialGradient id="sd104"><stop offset="0.000" stop-color="#000" stop-opacity="0.100"/><stop offset="0.300" stop-color="#000" stop-opacity="0.085"/><stop offset="0.550" stop-color="#000" stop-opacity="0.050"/><stop offset="0.750" stop-color="#000" stop-opacity="0.022"/><stop offset="0.900" stop-color="#000" stop-opacity="0.007"/><stop offset="1.000" stop-color="#000" stop-opacity="0.000"/></radialGradient>
<radialGradient id="sd105"><stop offset="0.000" stop-color="#000" stop-opacity="0.100"/><stop offset="0.300" stop-color="#000" stop-opacity="0.085"/><stop offset="0.550" stop-color="#000" stop-opacity="0.050"/><stop offset="0.750" stop-color="#000" stop-opacity="0.022"/><stop offset="0.900" stop-color="#000" stop-opacity="0.007"/><stop offset="1.000" stop-color="#000" stop-opacity="0.000"/></radialGradient>
<radialGradient id="sd106"><stop offset="0.000" stop-color="#000" stop-opacity="1.000"/><stop offset="0.500" stop-color="#000" stop-opacity="1.000"/><stop offset="0.620" stop-color="#000" stop-opacity="0.750"/><stop offset="0.720" stop-color="#000" stop-opacity="0.400"/><stop offset="0.820" stop-color="#000" stop-opacity="0.160"/><stop offset="0.920" stop-color="#000" stop-opacity="0.050"/><stop offset="1.000" stop-color="#000" stop-opacity="0.000"/></radialGradient>
<radialGradient id="sd107"><stop offset="0.000" stop-color="#000" stop-opacity="1.000"/><stop offset="0.500" stop-color="#000" stop-opacity="1.000"/><stop offset="0.620" stop-color="#000" stop-opacity="0.750"/><stop offset="0.720" stop-color="#000" stop-opacity="0.400"/><stop offset="0.820" stop-color="#000" stop-opacity="0.160"/><stop offset="0.920" stop-color="#000" stop-opacity="0.050"/><stop offset="1.000" stop-color="#000" stop-opacity="0.000"/></radialGradient>
<radialGradient id="sd108"><stop offset="0.000" stop-color="#000" stop-opacity="1.000"/><stop offset="0.500" stop-color="#000" stop-opacity="1.000"/><stop offset="0.620" stop-color="#000" stop-opacity="0.750"/><stop offset="0.720" stop-color="#000" stop-opacity="0.400"/><stop offset="0.820" stop-color="#000" stop-opacity="0.160"/><stop offset="0.920" stop-color="#000" stop-opacity="0.050"/><stop offset="1.000" stop-color="#000" stop-opacity="0.000"/></radialGradient>
<radialGradient id="sd109"><stop offset="0.000" stop-color="#000" stop-opacity="1.000"/><stop offset="0.500" stop-color="#000" stop-opacity="1.000"/><stop offset="0.620" stop-color="#000" stop-opacity="0.750"/><stop offset="0.720" stop-color="#000" stop-opacity="0.400"/><stop offset="0.820" stop-color="#000" stop-opacity="0.160"/><stop offset="0.920" stop-color="#000" stop-opacity="0.050"/><stop offset="1.000" stop-color="#000" stop-opacity="0.000"/></radialGradient>
<radialGradient id="sd1010"><stop offset="0.000" stop-color="#000" stop-opacity="1.000"/><stop offset="0.500" stop-color="#000" stop-opacity="1.000"/><stop offset="0.620" stop-color="#000" stop-opacity="0.750"/><stop offset="0.720" stop-color="#000" stop-opacity="0.400"/><stop offset="0.820" stop-color="#000" stop-opacity="0.160"/><stop offset="0.920" stop-color="#000" stop-opacity="0.050"/><stop offset="1.000" stop-color="#000" stop-opacity="0.000"/></radialGradient>
<radialGradient id="sd1011"><stop offset="0.000" stop-color="#000" stop-opacity="1.000"/><stop offset="0.500" stop-color="#000" stop-opacity="1.000"/><stop offset="0.620" stop-color="#000" stop-opacity="0.750"/><stop offset="0.720" stop-color="#000" stop-opacity="0.400"/><stop offset="0.820" stop-color="#000" stop-opacity="0.160"/><stop offset="0.920" stop-color="#000" stop-opacity="0.050"/><stop offset="1.000" stop-color="#000" stop-opacity="0.000"/></radialGradient>
<radialGradient id="sd1012"><stop offset="0.000" stop-color="#000" stop-opacity="0.040"/><stop offset="0.300" stop-color="#000" stop-opacity="0.034"/><stop offset="0.550" stop-color="#000" stop-opacity="0.020"/><stop offset="0.750" stop-color="#000" stop-opacity="0.009"/><stop offset="0.900" stop-color="#000" stop-opacity="0.003"/><stop offset="1.000" stop-color="#000" stop-opacity="0.000"/></radialGradient>
<filter id="sc11" filterUnits="userSpaceOnUse" x="1156" y="40" width="320" height="260" color-interpolation-filters="sRGB"><feTurbulence type="fractalNoise" baseFrequency="0.38" numOctaves="1" seed="38" result="t"/><feColorMatrix in="t" type="matrix" values="0 0 0 0 0 0 0 0 0 0 0 0 0 0 0 2.6 0 0 0 -0.8" result="na"/><feComposite in="SourceAlpha" in2="na" operator="arithmetic" k1="0" k2="1" k3="-1" k4="0.46" result="d"/><feComponentTransfer in="d" result="th"><feFuncA type="discrete" tableValues="0 1"/></feComponentTransfer><feFlood flood-color="#e3101c"/><feComposite operator="in" in2="th"/></filter>
<radialGradient id="sd110"><stop offset="0.000" stop-color="#000" stop-opacity="0.100"/><stop offset="0.300" stop-color="#000" stop-opacity="0.085"/><stop offset="0.550" stop-color="#000" stop-opacity="0.050"/><stop offset="0.750" stop-color="#000" stop-opacity="0.022"/><stop offset="0.900" stop-color="#000" stop-opacity="0.007"/><stop offset="1.000" stop-color="#000" stop-opacity="0.000"/></radialGradient>
<radialGradient id="sd111"><stop offset="0.000" stop-color="#000" stop-opacity="0.100"/><stop offset="0.300" stop-color="#000" stop-opacity="0.085"/><stop offset="0.550" stop-color="#000" stop-opacity="0.050"/><stop offset="0.750" stop-color="#000" stop-opacity="0.022"/><stop offset="0.900" stop-color="#000" stop-opacity="0.007"/><stop offset="1.000" stop-color="#000" stop-opacity="0.000"/></radialGradient>
<radialGradient id="sd112"><stop offset="0.000" stop-color="#000" stop-opacity="0.100"/><stop offset="0.300" stop-color="#000" stop-opacity="0.085"/><stop offset="0.550" stop-color="#000" stop-opacity="0.050"/><stop offset="0.750" stop-color="#000" stop-opacity="0.022"/><stop offset="0.900" stop-color="#000" stop-opacity="0.007"/><stop offset="1.000" stop-color="#000" stop-opacity="0.000"/></radialGradient>
<radialGradient id="sd113"><stop offset="0.000" stop-color="#000" stop-opacity="0.100"/><stop offset="0.300" stop-color="#000" stop-opacity="0.085"/><stop offset="0.550" stop-color="#000" stop-opacity="0.050"/><stop offset="0.750" stop-color="#000" stop-opacity="0.022"/><stop offset="0.900" stop-color="#000" stop-opacity="0.007"/><stop offset="1.000" stop-color="#000" stop-opacity="0.000"/></radialGradient>
<radialGradient id="sd114"><stop offset="0.000" stop-color="#000" stop-opacity="0.100"/><stop offset="0.300" stop-color="#000" stop-opacity="0.085"/><stop offset="0.550" stop-color="#000" stop-opacity="0.050"/><stop offset="0.750" stop-color="#000" stop-opacity="0.022"/><stop offset="0.900" stop-color="#000" stop-opacity="0.007"/><stop offset="1.000" stop-color="#000" stop-opacity="0.000"/></radialGradient>
<radialGradient id="sd115"><stop offset="0.000" stop-color="#000" stop-opacity="0.100"/><stop offset="0.300" stop-color="#000" stop-opacity="0.085"/><stop offset="0.550" stop-color="#000" stop-opacity="0.050"/><stop offset="0.750" stop-color="#000" stop-opacity="0.022"/><stop offset="0.900" stop-color="#000" stop-opacity="0.007"/><stop offset="1.000" stop-color="#000" stop-opacity="0.000"/></radialGradient>
<radialGradient id="sd116"><stop offset="0.000" stop-color="#000" stop-opacity="1.000"/><stop offset="0.500" stop-color="#000" stop-opacity="1.000"/><stop offset="0.620" stop-color="#000" stop-opacity="0.750"/><stop offset="0.720" stop-color="#000" stop-opacity="0.400"/><stop offset="0.820" stop-color="#000" stop-opacity="0.160"/><stop offset="0.920" stop-color="#000" stop-opacity="0.050"/><stop offset="1.000" stop-color="#000" stop-opacity="0.000"/></radialGradient>
<radialGradient id="sd117"><stop offset="0.000" stop-color="#000" stop-opacity="1.000"/><stop offset="0.500" stop-color="#000" stop-opacity="1.000"/><stop offset="0.620" stop-color="#000" stop-opacity="0.750"/><stop offset="0.720" stop-color="#000" stop-opacity="0.400"/><stop offset="0.820" stop-color="#000" stop-opacity="0.160"/><stop offset="0.920" stop-color="#000" stop-opacity="0.050"/><stop offset="1.000" stop-color="#000" stop-opacity="0.000"/></radialGradient>
<radialGradient id="sd118"><stop offset="0.000" stop-color="#000" stop-opacity="1.000"/><stop offset="0.500" stop-color="#000" stop-opacity="1.000"/><stop offset="0.620" stop-color="#000" stop-opacity="0.750"/><stop offset="0.720" stop-color="#000" stop-opacity="0.400"/><stop offset="0.820" stop-color="#000" stop-opacity="0.160"/><stop offset="0.920" stop-color="#000" stop-opacity="0.050"/><stop offset="1.000" stop-color="#000" stop-opacity="0.000"/></radialGradient>
<radialGradient id="sd119"><stop offset="0.000" stop-color="#000" stop-opacity="1.000"/><stop offset="0.500" stop-color="#000" stop-opacity="1.000"/><stop offset="0.620" stop-color="#000" stop-opacity="0.750"/><stop offset="0.720" stop-color="#000" stop-opacity="0.400"/><stop offset="0.820" stop-color="#000" stop-opacity="0.160"/><stop offset="0.920" stop-color="#000" stop-opacity="0.050"/><stop offset="1.000" stop-color="#000" stop-opacity="0.000"/></radialGradient>
<radialGradient id="sd1110"><stop offset="0.000" stop-color="#000" stop-opacity="1.000"/><stop offset="0.500" stop-color="#000" stop-opacity="1.000"/><stop offset="0.620" stop-color="#000" stop-opacity="0.750"/><stop offset="0.720" stop-color="#000" stop-opacity="0.400"/><stop offset="0.820" stop-color="#000" stop-opacity="0.160"/><stop offset="0.920" stop-color="#000" stop-opacity="0.050"/><stop offset="1.000" stop-color="#000" stop-opacity="0.000"/></radialGradient>
<radialGradient id="sd1111"><stop offset="0.000" stop-color="#000" stop-opacity="1.000"/><stop offset="0.500" stop-color="#000" stop-opacity="1.000"/><stop offset="0.620" stop-color="#000" stop-opacity="0.750"/><stop offset="0.720" stop-color="#000" stop-opacity="0.400"/><stop offset="0.820" stop-color="#000" stop-opacity="0.160"/><stop offset="0.920" stop-color="#000" stop-opacity="0.050"/><stop offset="1.000" stop-color="#000" stop-opacity="0.000"/></radialGradient>
<radialGradient id="sd1112"><stop offset="0.000" stop-color="#000" stop-opacity="0.140"/><stop offset="0.300" stop-color="#000" stop-opacity="0.119"/><stop offset="0.550" stop-color="#000" stop-opacity="0.070"/><stop offset="0.750" stop-color="#000" stop-opacity="0.031"/><stop offset="0.900" stop-color="#000" stop-opacity="0.010"/><stop offset="1.000" stop-color="#000" stop-opacity="0.000"/></radialGradient>
<radialGradient id="sd1113"><stop offset="0.000" stop-color="#000" stop-opacity="0.050"/><stop offset="0.300" stop-color="#000" stop-opacity="0.043"/><stop offset="0.550" stop-color="#000" stop-opacity="0.025"/><stop offset="0.750" stop-color="#000" stop-opacity="0.011"/><stop offset="0.900" stop-color="#000" stop-opacity="0.004"/><stop offset="1.000" stop-color="#000" stop-opacity="0.000"/></radialGradient>
<filter id="fb0" filterUnits="userSpaceOnUse" x="95" y="524.5" width="418" height="401.5" color-interpolation-filters="sRGB"><feTurbulence type="fractalNoise" baseFrequency="0.26 0.09" numOctaves="2" seed="11" result="t"/><feColorMatrix in="t" type="matrix" values="1 0 0 0 0 1 0 0 0 0 1 0 0 0 0 0 0 0 0 1" result="t2"/><feComponentTransfer in="t2" result="n"><feFuncR type="linear" slope="2.600" intercept="-0.800"/><feFuncG type="linear" slope="2.600" intercept="-0.800"/><feFuncB type="linear" slope="2.600" intercept="-0.800"/></feComponentTransfer><feComposite in="SourceGraphic" in2="n" operator="arithmetic" k1="0.200" k2="0.950" k3="0.350" k4="-0.270" result="m"/><feComponentTransfer in="m"><feFuncR type="table" tableValues="0.024 0.024 0.024 0.024 0.028 0.050 0.071 0.090 0.110 0.123 0.136 0.149 0.166 0.187 0.209 0.231 0.266 0.304 0.342 0.376 0.392 0.408 0.424 0.497 0.570 0.643 0.716 0.786 0.853 0.920 0.960 0.957 0.954 0.951 0.944 0.932 0.919 0.907 0.894 0.878 0.863"/><feFuncG type="table" tableValues="0.024 0.024 0.024 0.024 0.032 0.077 0.127 0.177 0.227 0.295 0.363 0.430 0.499 0.570 0.641 0.711 0.739 0.755 0.771 0.784 0.781 0.779 0.776 0.798 0.819 0.841 0.862 0.881 0.898 0.915 0.888 0.794 0.700 0.605 0.511 0.414 0.318 0.222 0.125 0.102 0.078"/><feFuncB type="table" tableValues="0.031 0.031 0.031 0.031 0.083 0.341 0.482 0.594 0.706 0.755 0.804 0.853 0.887 0.898 0.908 0.919 0.865 0.794 0.723 0.646 0.542 0.438 0.333 0.293 0.253 0.213 0.173 0.142 0.118 0.093 0.082 0.089 0.097 0.105 0.111 0.112 0.114 0.116 0.118 0.108 0.098"/><feFuncA type="linear" slope="0" intercept="1"/></feComponentTransfer></filter>
<radialGradient id="gb00"><stop offset="0.000" stop-color="#fff" stop-opacity="0.100"/><stop offset="0.400" stop-color="#fff" stop-opacity="0.080"/><stop offset="0.700" stop-color="#fff" stop-opacity="0.045"/><stop offset="1.000" stop-color="#fff" stop-opacity="0.000"/></radialGradient>
<radialGradient id="gb01"><stop offset="0.000" stop-color="#fff" stop-opacity="0.115"/><stop offset="0.400" stop-color="#fff" stop-opacity="0.092"/><stop offset="0.700" stop-color="#fff" stop-opacity="0.052"/><stop offset="1.000" stop-color="#fff" stop-opacity="0.000"/></radialGradient>
<radialGradient id="gb02"><stop offset="0.000" stop-color="#fff" stop-opacity="0.130"/><stop offset="0.450" stop-color="#fff" stop-opacity="0.111"/><stop offset="0.700" stop-color="#fff" stop-opacity="0.072"/><stop offset="0.880" stop-color="#fff" stop-opacity="0.029"/><stop offset="1.000" stop-color="#fff" stop-opacity="0.000"/></radialGradient>
<radialGradient id="gb03"><stop offset="0.000" stop-color="#fff" stop-opacity="0.140"/><stop offset="0.450" stop-color="#fff" stop-opacity="0.119"/><stop offset="0.700" stop-color="#fff" stop-opacity="0.077"/><stop offset="0.880" stop-color="#fff" stop-opacity="0.031"/><stop offset="1.000" stop-color="#fff" stop-opacity="0.000"/></radialGradient>
<radialGradient id="gb04"><stop offset="0.000" stop-color="#fff" stop-opacity="0.620"/><stop offset="0.300" stop-color="#fff" stop-opacity="0.595"/><stop offset="0.500" stop-color="#fff" stop-opacity="0.533"/><stop offset="0.650" stop-color="#fff" stop-opacity="0.434"/><stop offset="0.780" stop-color="#fff" stop-opacity="0.298"/><stop offset="0.900" stop-color="#fff" stop-opacity="0.149"/><stop offset="1.000" stop-color="#fff" stop-opacity="0.000"/></radialGradient>
<radialGradient id="gb05"><stop offset="0.000" stop-color="#fff" stop-opacity="0.740"/><stop offset="0.300" stop-color="#fff" stop-opacity="0.710"/><stop offset="0.500" stop-color="#fff" stop-opacity="0.636"/><stop offset="0.650" stop-color="#fff" stop-opacity="0.518"/><stop offset="0.780" stop-color="#fff" stop-opacity="0.355"/><stop offset="0.900" stop-color="#fff" stop-opacity="0.178"/><stop offset="1.000" stop-color="#fff" stop-opacity="0.000"/></radialGradient>
<radialGradient id="gb06"><stop offset="0.000" stop-color="#fff" stop-opacity="0.200"/><stop offset="0.300" stop-color="#fff" stop-opacity="0.192"/><stop offset="0.500" stop-color="#fff" stop-opacity="0.172"/><stop offset="0.650" stop-color="#fff" stop-opacity="0.140"/><stop offset="0.780" stop-color="#fff" stop-opacity="0.096"/><stop offset="0.900" stop-color="#fff" stop-opacity="0.048"/><stop offset="1.000" stop-color="#fff" stop-opacity="0.000"/></radialGradient>
<radialGradient id="gb07"><stop offset="0.000" stop-color="#fff" stop-opacity="0.380"/><stop offset="0.300" stop-color="#fff" stop-opacity="0.365"/><stop offset="0.500" stop-color="#fff" stop-opacity="0.327"/><stop offset="0.650" stop-color="#fff" stop-opacity="0.266"/><stop offset="0.780" stop-color="#fff" stop-opacity="0.182"/><stop offset="0.900" stop-color="#fff" stop-opacity="0.091"/><stop offset="1.000" stop-color="#fff" stop-opacity="0.000"/></radialGradient>
<clipPath id="cb0"><rect x="95" y="524.5" width="418" height="401.5"/></clipPath>
<filter id="fb1" filterUnits="userSpaceOnUse" x="609" y="527.5" width="414.5" height="397.5" color-interpolation-filters="sRGB"><feTurbulence type="fractalNoise" baseFrequency="0.26 0.09" numOctaves="2" seed="12" result="t"/><feColorMatrix in="t" type="matrix" values="1 0 0 0 0 1 0 0 0 0 1 0 0 0 0 0 0 0 0 1" result="t2"/><feComponentTransfer in="t2" result="n"><feFuncR type="linear" slope="2.600" intercept="-0.800"/><feFuncG type="linear" slope="2.600" intercept="-0.800"/><feFuncB type="linear" slope="2.600" intercept="-0.800"/></feComponentTransfer><feComposite in="SourceGraphic" in2="n" operator="arithmetic" k1="0.200" k2="0.950" k3="0.350" k4="-0.270" result="m"/><feComponentTransfer in="m"><feFuncR type="table" tableValues="0.024 0.024 0.024 0.024 0.028 0.050 0.071 0.090 0.110 0.123 0.136 0.149 0.166 0.187 0.209 0.231 0.266 0.304 0.342 0.376 0.392 0.408 0.424 0.497 0.570 0.643 0.716 0.786 0.853 0.920 0.960 0.957 0.954 0.951 0.944 0.932 0.919 0.907 0.894 0.878 0.863"/><feFuncG type="table" tableValues="0.024 0.024 0.024 0.024 0.032 0.077 0.127 0.177 0.227 0.295 0.363 0.430 0.499 0.570 0.641 0.711 0.739 0.755 0.771 0.784 0.781 0.779 0.776 0.798 0.819 0.841 0.862 0.881 0.898 0.915 0.888 0.794 0.700 0.605 0.511 0.414 0.318 0.222 0.125 0.102 0.078"/><feFuncB type="table" tableValues="0.031 0.031 0.031 0.031 0.083 0.341 0.482 0.594 0.706 0.755 0.804 0.853 0.887 0.898 0.908 0.919 0.865 0.794 0.723 0.646 0.542 0.438 0.333 0.293 0.253 0.213 0.173 0.142 0.118 0.093 0.082 0.089 0.097 0.105 0.111 0.112 0.114 0.116 0.118 0.108 0.098"/><feFuncA type="linear" slope="0" intercept="1"/></feComponentTransfer></filter>
<radialGradient id="gb10"><stop offset="0.000" stop-color="#fff" stop-opacity="0.100"/><stop offset="0.400" stop-color="#fff" stop-opacity="0.080"/><stop offset="0.700" stop-color="#fff" stop-opacity="0.045"/><stop offset="1.000" stop-color="#fff" stop-opacity="0.000"/></radialGradient>
<radialGradient id="gb11"><stop offset="0.000" stop-color="#fff" stop-opacity="0.115"/><stop offset="0.400" stop-color="#fff" stop-opacity="0.092"/><stop offset="0.700" stop-color="#fff" stop-opacity="0.052"/><stop offset="1.000" stop-color="#fff" stop-opacity="0.000"/></radialGradient>
<radialGradient id="gb12"><stop offset="0.000" stop-color="#fff" stop-opacity="0.130"/><stop offset="0.450" stop-color="#fff" stop-opacity="0.111"/><stop offset="0.700" stop-color="#fff" stop-opacity="0.072"/><stop offset="0.880" stop-color="#fff" stop-opacity="0.029"/><stop offset="1.000" stop-color="#fff" stop-opacity="0.000"/></radialGradient>
<radialGradient id="gb13"><stop offset="0.000" stop-color="#fff" stop-opacity="0.140"/><stop offset="0.450" stop-color="#fff" stop-opacity="0.119"/><stop offset="0.700" stop-color="#fff" stop-opacity="0.077"/><stop offset="0.880" stop-color="#fff" stop-opacity="0.031"/><stop offset="1.000" stop-color="#fff" stop-opacity="0.000"/></radialGradient>
<radialGradient id="gb14"><stop offset="0.000" stop-color="#fff" stop-opacity="0.720"/><stop offset="0.300" stop-color="#fff" stop-opacity="0.691"/><stop offset="0.500" stop-color="#fff" stop-opacity="0.619"/><stop offset="0.650" stop-color="#fff" stop-opacity="0.504"/><stop offset="0.780" stop-color="#fff" stop-opacity="0.346"/><stop offset="0.900" stop-color="#fff" stop-opacity="0.173"/><stop offset="1.000" stop-color="#fff" stop-opacity="0.000"/></radialGradient>
<radialGradient id="gb15"><stop offset="0.000" stop-color="#fff" stop-opacity="0.740"/><stop offset="0.300" stop-color="#fff" stop-opacity="0.710"/><stop offset="0.500" stop-color="#fff" stop-opacity="0.636"/><stop offset="0.650" stop-color="#fff" stop-opacity="0.518"/><stop offset="0.780" stop-color="#fff" stop-opacity="0.355"/><stop offset="0.900" stop-color="#fff" stop-opacity="0.178"/><stop offset="1.000" stop-color="#fff" stop-opacity="0.000"/></radialGradient>
<radialGradient id="gb16"><stop offset="0.000" stop-color="#fff" stop-opacity="0.380"/><stop offset="0.300" stop-color="#fff" stop-opacity="0.365"/><stop offset="0.500" stop-color="#fff" stop-opacity="0.327"/><stop offset="0.650" stop-color="#fff" stop-opacity="0.266"/><stop offset="0.780" stop-color="#fff" stop-opacity="0.182"/><stop offset="0.900" stop-color="#fff" stop-opacity="0.091"/><stop offset="1.000" stop-color="#fff" stop-opacity="0.000"/></radialGradient>
<radialGradient id="gb17"><stop offset="0.000" stop-color="#fff" stop-opacity="0.380"/><stop offset="0.300" stop-color="#fff" stop-opacity="0.365"/><stop offset="0.500" stop-color="#fff" stop-opacity="0.327"/><stop offset="0.650" stop-color="#fff" stop-opacity="0.266"/><stop offset="0.780" stop-color="#fff" stop-opacity="0.182"/><stop offset="0.900" stop-color="#fff" stop-opacity="0.091"/><stop offset="1.000" stop-color="#fff" stop-opacity="0.000"/></radialGradient>
<clipPath id="cb1"><rect x="609" y="527.5" width="414.5" height="397.5"/></clipPath>
<filter id="fb2" filterUnits="userSpaceOnUse" x="1118.5" y="526" width="414" height="397.5" color-interpolation-filters="sRGB"><feTurbulence type="fractalNoise" baseFrequency="0.26 0.09" numOctaves="2" seed="13" result="t"/><feColorMatrix in="t" type="matrix" values="1 0 0 0 0 1 0 0 0 0 1 0 0 0 0 0 0 0 0 1" result="t2"/><feComponentTransfer in="t2" result="n"><feFuncR type="linear" slope="2.600" intercept="-0.800"/><feFuncG type="linear" slope="2.600" intercept="-0.800"/><feFuncB type="linear" slope="2.600" intercept="-0.800"/></feComponentTransfer><feComposite in="SourceGraphic" in2="n" operator="arithmetic" k1="0.200" k2="0.950" k3="0.350" k4="-0.270" result="m"/><feComponentTransfer in="m"><feFuncR type="table" tableValues="0.024 0.024 0.024 0.024 0.028 0.050 0.071 0.090 0.110 0.123 0.136 0.149 0.166 0.187 0.209 0.231 0.266 0.304 0.342 0.376 0.392 0.408 0.424 0.497 0.570 0.643 0.716 0.786 0.853 0.920 0.960 0.957 0.954 0.951 0.944 0.932 0.919 0.907 0.894 0.878 0.863"/><feFuncG type="table" tableValues="0.024 0.024 0.024 0.024 0.032 0.077 0.127 0.177 0.227 0.295 0.363 0.430 0.499 0.570 0.641 0.711 0.739 0.755 0.771 0.784 0.781 0.779 0.776 0.798 0.819 0.841 0.862 0.881 0.898 0.915 0.888 0.794 0.700 0.605 0.511 0.414 0.318 0.222 0.125 0.102 0.078"/><feFuncB type="table" tableValues="0.031 0.031 0.031 0.031 0.083 0.341 0.482 0.594 0.706 0.755 0.804 0.853 0.887 0.898 0.908 0.919 0.865 0.794 0.723 0.646 0.542 0.438 0.333 0.293 0.253 0.213 0.173 0.142 0.118 0.093 0.082 0.089 0.097 0.105 0.111 0.112 0.114 0.116 0.118 0.108 0.098"/><feFuncA type="linear" slope="0" intercept="1"/></feComponentTransfer></filter>
<radialGradient id="gb20"><stop offset="0.000" stop-color="#fff" stop-opacity="0.095"/><stop offset="0.400" stop-color="#fff" stop-opacity="0.076"/><stop offset="0.700" stop-color="#fff" stop-opacity="0.043"/><stop offset="1.000" stop-color="#fff" stop-opacity="0.000"/></radialGradient>
<radialGradient id="gb21"><stop offset="0.000" stop-color="#fff" stop-opacity="0.095"/><stop offset="0.400" stop-color="#fff" stop-opacity="0.076"/><stop offset="0.700" stop-color="#fff" stop-opacity="0.043"/><stop offset="1.000" stop-color="#fff" stop-opacity="0.000"/></radialGradient>
<radialGradient id="gb22"><stop offset="0.000" stop-color="#fff" stop-opacity="0.130"/><stop offset="0.450" stop-color="#fff" stop-opacity="0.111"/><stop offset="0.700" stop-color="#fff" stop-opacity="0.072"/><stop offset="0.880" stop-color="#fff" stop-opacity="0.029"/><stop offset="1.000" stop-color="#fff" stop-opacity="0.000"/></radialGradient>
<radialGradient id="gb23"><stop offset="0.000" stop-color="#fff" stop-opacity="0.130"/><stop offset="0.450" stop-color="#fff" stop-opacity="0.111"/><stop offset="0.700" stop-color="#fff" stop-opacity="0.072"/><stop offset="0.880" stop-color="#fff" stop-opacity="0.029"/><stop offset="1.000" stop-color="#fff" stop-opacity="0.000"/></radialGradient>
<radialGradient id="gb24"><stop offset="0.000" stop-color="#fff" stop-opacity="0.360"/><stop offset="0.300" stop-color="#fff" stop-opacity="0.346"/><stop offset="0.500" stop-color="#fff" stop-opacity="0.310"/><stop offset="0.650" stop-color="#fff" stop-opacity="0.252"/><stop offset="0.780" stop-color="#fff" stop-opacity="0.173"/><stop offset="0.900" stop-color="#fff" stop-opacity="0.086"/><stop offset="1.000" stop-color="#fff" stop-opacity="0.000"/></radialGradient>
<radialGradient id="gb25"><stop offset="0.000" stop-color="#fff" stop-opacity="0.340"/><stop offset="0.300" stop-color="#fff" stop-opacity="0.326"/><stop offset="0.500" stop-color="#fff" stop-opacity="0.292"/><stop offset="0.650" stop-color="#fff" stop-opacity="0.238"/><stop offset="0.780" stop-color="#fff" stop-opacity="0.163"/><stop offset="0.900" stop-color="#fff" stop-opacity="0.082"/><stop offset="1.000" stop-color="#fff" stop-opacity="0.000"/></radialGradient>
<clipPath id="cb2"><rect x="1118.5" y="526" width="414" height="397.5"/></clipPath>
<linearGradient id="gg" x1="0" y1="0" x2="1" y2="0"><stop offset="0" stop-color="#d6e79c"/><stop offset="0.5" stop-color="#c4dc78"/><stop offset="1" stop-color="#cfe48e"/></linearGradient>
<filter id="fd0" filterUnits="userSpaceOnUse" x="1013.8" y="1015.8" width="533.9" height="277" color-interpolation-filters="sRGB"><feGaussianBlur stdDeviation="6.5 5"/><feComponentTransfer><feFuncR type="table" tableValues="0.122 0.123 0.125 0.126 0.128 0.129 0.135 0.140 0.146 0.151 0.157 0.161 0.166 0.170 0.174 0.211 0.279 0.348 0.417 0.450 0.447 0.444 0.441 0.433 0.422 0.410 0.398 0.410 0.446 0.481 0.517 0.553 0.588 0.653 0.717 0.781 0.845 0.910 0.922 0.934 0.946 0.959 0.960 0.952 0.943 0.934 0.925 0.912 0.898 0.884 0.871"/><feFuncG type="table" tableValues="0.239 0.246 0.253 0.260 0.267 0.275 0.306 0.337 0.369 0.400 0.431 0.491 0.550 0.609 0.668 0.711 0.738 0.764 0.791 0.798 0.785 0.772 0.759 0.748 0.737 0.726 0.715 0.717 0.730 0.744 0.757 0.771 0.784 0.809 0.835 0.860 0.885 0.910 0.851 0.793 0.735 0.676 0.606 0.523 0.440 0.357 0.275 0.233 0.192 0.151 0.110"/><feFuncB type="table" tableValues="0.596 0.605 0.613 0.622 0.631 0.639 0.668 0.697 0.726 0.755 0.784 0.816 0.847 0.878 0.910 0.922 0.914 0.906 0.898 0.851 0.765 0.678 0.592 0.504 0.414 0.324 0.233 0.185 0.180 0.174 0.168 0.163 0.157 0.143 0.129 0.115 0.100 0.086 0.093 0.100 0.107 0.114 0.116 0.112 0.109 0.105 0.102 0.106 0.110 0.114 0.118"/><feFuncA type="linear" slope="0" intercept="1"/></feComponentTransfer></filter>
<clipPath id="cd0"><rect x="1013.8" y="1015.8" width="533.9" height="277"/></clipPath>
<filter id="fd1" filterUnits="userSpaceOnUse" x="1013.8" y="1302.3" width="533.9" height="278.2" color-interpolation-filters="sRGB"><feGaussianBlur stdDeviation="6.5 5"/><feComponentTransfer><feFuncR type="table" tableValues="0.122 0.123 0.125 0.126 0.128 0.129 0.135 0.140 0.146 0.151 0.157 0.161 0.166 0.170 0.174 0.211 0.279 0.348 0.417 0.450 0.447 0.444 0.441 0.433 0.422 0.410 0.398 0.410 0.446 0.481 0.517 0.553 0.588 0.653 0.717 0.781 0.845 0.910 0.922 0.934 0.946 0.959 0.960 0.952 0.943 0.934 0.925 0.912 0.898 0.884 0.871"/><feFuncG type="table" tableValues="0.239 0.246 0.253 0.260 0.267 0.275 0.306 0.337 0.369 0.400 0.431 0.491 0.550 0.609 0.668 0.711 0.738 0.764 0.791 0.798 0.785 0.772 0.759 0.748 0.737 0.726 0.715 0.717 0.730 0.744 0.757 0.771 0.784 0.809 0.835 0.860 0.885 0.910 0.851 0.793 0.735 0.676 0.606 0.523 0.440 0.357 0.275 0.233 0.192 0.151 0.110"/><feFuncB type="table" tableValues="0.596 0.605 0.613 0.622 0.631 0.639 0.668 0.697 0.726 0.755 0.784 0.816 0.847 0.878 0.910 0.922 0.914 0.906 0.898 0.851 0.765 0.678 0.592 0.504 0.414 0.324 0.233 0.185 0.180 0.174 0.168 0.163 0.157 0.143 0.129 0.115 0.100 0.086 0.093 0.100 0.107 0.114 0.116 0.112 0.109 0.105 0.102 0.106 0.110 0.114 0.118"/><feFuncA type="linear" slope="0" intercept="1"/></feComponentTransfer></filter>
<clipPath id="cd1"><rect x="1013.8" y="1302.3" width="533.9" height="278.2"/></clipPath>
</defs>
<rect width="1550" height="1658" fill="#fff"/>
<text x="57" y="55.4" textLength="49.5" lengthAdjust="spacingAndGlyphs" font-size="42" >(a)</text>
<text x="57.4" y="475.5" textLength="48.4" lengthAdjust="spacingAndGlyphs" font-size="42" >(b)</text>
<path d="M147 325.4L339.2 210.7L525.7 332.2M147 258L339.2 143.3L525.7 264.8M147 190.6L339.2 75.9L525.7 197.4M147 123.2L339.2 8.5L525.7 130M180.6 312.9V103.1M243.1 275.6V65.8M305.9 238.1V28.3M494.6 319.5V109.7M434.5 280.4V70.6M372.8 240.2V30.4M339.2 218.3V8.5M181.6 312.4L368.1 433.9M244.6 274.7L431.1 396.2M307.1 237.5L493.6 359M301.8 433.8L494 319.1M240.2 393.8L432.5 279M178.7 353.7L370.9 239" stroke="#e2e2e2" stroke-width="1" fill="none"/>
<path d="M147 123.2V333L333.5 454.5L525.7 339.8M147 325.4l-4 -2.5M147 258l-4 -2.5M147 190.6l-4 -2.5M147 123.2l-4 -2.5M176.8 352.4l-5 3M238.4 392.5l-5 3M299.9 432.6l-5 3M369.4 433.1l5 3M432.9 395.2l5 3M494.8 358.3l5 3" stroke="#333" stroke-width="1.5" fill="none"/>
<text x="132.4" y="330.6" text-anchor="end" font-size="25.5" >0</text>
<text x="132.4" y="263.2" text-anchor="end" font-size="25.5" >1</text>
<text x="132.4" y="195.8" text-anchor="end" font-size="25.5" >2</text>
<text x="132.4" y="128.4" text-anchor="end" font-size="25.5" >3</text>
<text x="157.8" y="391" text-anchor="middle" font-size="25.5" >1</text>
<text x="218.8" y="431.2" text-anchor="middle" font-size="25.5" >0</text>
<text x="273.7" y="471.5" text-anchor="middle" font-size="25.5" >-1</text>
<text x="391" y="472.4" text-anchor="middle" font-size="25.5" >-1</text>
<text x="451" y="433" text-anchor="middle" font-size="25.5" >0</text>
<text x="512.2" y="395.2" text-anchor="middle" font-size="25.5" >1</text>
<text transform="translate(102 229) rotate(-90)" text-anchor="middle" textLength="163" lengthAdjust="spacingAndGlyphs" font-size="28" >Energy (eV)</text>
<text x="124.5" y="470" textLength="96.8" lengthAdjust="spacingAndGlyphs" font-size="30" >k<tspan dy="14" font-size="24">y</tspan><tspan dy="-14"> (Å</tspan><tspan dy="-14.5" font-size="23.5">-1</tspan><tspan dy="14.5">)</tspan></text>
<text x="447.7" y="469.9" textLength="96.4" lengthAdjust="spacingAndGlyphs" font-size="30" >k<tspan dy="14" font-size="24">x</tspan><tspan dy="-14"> (Å</tspan><tspan dy="-14.5" font-size="23.5">-1</tspan><tspan dy="14.5">)</tspan></text>
<text x="217.4" y="51.8" textLength="234.3" lengthAdjust="spacingAndGlyphs" font-size="48" >Δt= -0.3 ps</text>
<use href="#surface0" transform="translate(0 0)"/>
<path d="M644.6 323.9L836.8 209.2L1023.3 330.7M644.6 256.5L836.8 141.8L1023.3 263.3M644.6 189.1L836.8 74.4L1023.3 195.9M644.6 121.7L836.8 7L1023.3 128.5M678.2 311.4V101.6M740.7 274.1V64.3M803.5 236.6V26.8M992.2 318V108.2M932.1 278.9V69.1M870.4 238.7V28.9M836.8 216.8V7M679.2 310.9L865.7 432.4M742.2 273.2L928.7 394.7M804.7 236L991.2 357.5M799.4 432.3L991.6 317.6M737.9 392.2L930.1 277.5M676.3 352.2L868.5 237.5" stroke="#e2e2e2" stroke-width="1" fill="none"/>
<path d="M644.6 121.7V331.5L831.1 453L1023.3 338.3M644.6 323.9l-4 -2.5M644.6 256.5l-4 -2.5M644.6 189.1l-4 -2.5M644.6 121.7l-4 -2.5M674.4 350.9l-5 3M736 391l-5 3M797.5 431.1l-5 3M867 431.6l5 3M930.5 393.7l5 3M992.4 356.8l5 3" stroke="#333" stroke-width="1.5" fill="none"/>
<text x="630" y="329.1" text-anchor="end" font-size="25.5" >0</text>
<text x="630" y="261.7" text-anchor="end" font-size="25.5" >1</text>
<text x="630" y="194.3" text-anchor="end" font-size="25.5" >2</text>
<text x="630" y="126.9" text-anchor="end" font-size="25.5" >3</text>
<text x="655.4" y="389.5" text-anchor="middle" font-size="25.5" >1</text>
<text x="716.4" y="429.7" text-anchor="middle" font-size="25.5" >0</text>
<text x="771.3" y="470" text-anchor="middle" font-size="25.5" >-1</text>
<text x="888.6" y="470.9" text-anchor="middle" font-size="25.5" >-1</text>
<text x="948.6" y="431.5" text-anchor="middle" font-size="25.5" >0</text>
<text x="1009.8" y="393.7" text-anchor="middle" font-size="25.5" >1</text>
<text transform="translate(599.6 227.5) rotate(-90)" text-anchor="middle" textLength="163" lengthAdjust="spacingAndGlyphs" font-size="28" >Energy (eV)</text>
<text x="622.1" y="468.5" textLength="96.8" lengthAdjust="spacingAndGlyphs" font-size="30" >k<tspan dy="14" font-size="24">y</tspan><tspan dy="-14"> (Å</tspan><tspan dy="-14.5" font-size="23.5">-1</tspan><tspan dy="14.5">)</tspan></text>
<text x="945.3" y="468.4" textLength="96.4" lengthAdjust="spacingAndGlyphs" font-size="30" >k<tspan dy="14" font-size="24">x</tspan><tspan dy="-14"> (Å</tspan><tspan dy="-14.5" font-size="23.5">-1</tspan><tspan dy="14.5">)</tspan></text>
<text x="743" y="46.3" textLength="176.5" lengthAdjust="spacingAndGlyphs" font-size="48" >Δt= 0 ps</text>
<use href="#surface1" transform="translate(497.6 -1.5)"/>
<path d="M1130 323.9L1322.2 209.2L1508.7 330.7M1130 256.5L1322.2 141.8L1508.7 263.3M1130 189.1L1322.2 74.4L1508.7 195.9M1130 121.7L1322.2 7L1508.7 128.5M1163.6 311.4V101.6M1226.1 274.1V64.3M1288.9 236.6V26.8M1477.6 318V108.2M1417.5 278.9V69.1M1355.8 238.7V28.9M1322.2 216.8V7M1164.6 310.9L1351.1 432.4M1227.6 273.2L1414.1 394.7M1290.1 236L1476.6 357.5M1284.8 432.3L1477 317.6M1223.2 392.2L1415.5 277.5M1161.7 352.2L1353.9 237.5" stroke="#e2e2e2" stroke-width="1" fill="none"/>
<path d="M1130 121.7V331.5L1316.5 453L1508.7 338.3M1130 323.9l-4 -2.5M1130 256.5l-4 -2.5M1130 189.1l-4 -2.5M1130 121.7l-4 -2.5M1159.8 350.9l-5 3M1221.4 391l-5 3M1282.9 431.1l-5 3M1352.4 431.6l5 3M1415.9 393.7l5 3M1477.8 356.8l5 3" stroke="#333" stroke-width="1.5" fill="none"/>
<text x="1115.4" y="329.1" text-anchor="end" font-size="25.5" >0</text>
<text x="1115.4" y="261.7" text-anchor="end" font-size="25.5" >1</text>
<text x="1115.4" y="194.3" text-anchor="end" font-size="25.5" >2</text>
<text x="1115.4" y="126.9" text-anchor="end" font-size="25.5" >3</text>
<text x="1140.8" y="389.5" text-anchor="middle" font-size="25.5" >1</text>
<text x="1201.8" y="429.7" text-anchor="middle" font-size="25.5" >0</text>
<text x="1256.7" y="470" text-anchor="middle" font-size="25.5" >-1</text>
<text x="1374" y="470.9" text-anchor="middle" font-size="25.5" >-1</text>
<text x="1434" y="431.5" text-anchor="middle" font-size="25.5" >0</text>
<text x="1495.2" y="393.7" text-anchor="middle" font-size="25.5" >1</text>
<text transform="translate(1085 227.5) rotate(-90)" text-anchor="middle" textLength="163" lengthAdjust="spacingAndGlyphs" font-size="28" >Energy (eV)</text>
<text x="1107.5" y="468.5" textLength="96.8" lengthAdjust="spacingAndGlyphs" font-size="30" >k<tspan dy="14" font-size="24">y</tspan><tspan dy="-14"> (Å</tspan><tspan dy="-14.5" font-size="23.5">-1</tspan><tspan dy="14.5">)</tspan></text>
<text x="1430.7" y="468.4" textLength="96.4" lengthAdjust="spacingAndGlyphs" font-size="30" >k<tspan dy="14" font-size="24">x</tspan><tspan dy="-14"> (Å</tspan><tspan dy="-14.5" font-size="23.5">-1</tspan><tspan dy="14.5">)</tspan></text>
<text x="1223.6" y="46.3" textLength="217.2" lengthAdjust="spacingAndGlyphs" font-size="48" >Δt= 0.5 ps</text>
<use href="#surface2" transform="translate(983 -1.5)"/>
<rect x="285.8" y="98.5" width="2.4" height="2.4" fill="#2a4da8"/>
<rect x="328.8" y="102.8" width="2.4" height="2.4" fill="#e3101c"/>
<rect x="362.2" y="105.5" width="2.4" height="2.4" fill="#2a4da8"/>
<rect x="373.8" y="95.8" width="2.4" height="2.4" fill="#333"/>
<rect x="240.4" y="126.3" width="2.4" height="2.4" fill="#2a4da8"/>
<rect x="302.5" y="136.4" width="2.4" height="2.4" fill="#333"/>
<rect x="265.6" y="157.2" width="2.4" height="2.4" fill="#2a4da8"/>
<rect x="395.8" y="155.5" width="2.4" height="2.4" fill="#e3101c"/>
<rect x="443.4" y="134.8" width="2.4" height="2.4" fill="#2a4da8"/>
<rect x="339.4" y="165.6" width="2.4" height="2.4" fill="#e3101c"/>
<rect x="417.3" y="167.6" width="2.4" height="2.4" fill="#e3101c"/>
<rect x="457.5" y="168.3" width="2.4" height="2.4" fill="#2a4da8"/>
<rect x="244.8" y="187.8" width="2.4" height="2.4" fill="#2a4da8"/>
<rect x="272.3" y="181" width="2.4" height="2.4" fill="#e3101c"/>
<rect x="349.5" y="180.3" width="2.4" height="2.4" fill="#e3101c"/>
<rect x="357.8" y="187.8" width="2.4" height="2.4" fill="#e3101c"/>
<rect x="363.6" y="187.8" width="2.4" height="2.4" fill="#e3101c"/>
<rect x="389.8" y="188.4" width="2.4" height="2.4" fill="#e3101c"/>
<rect x="394.1" y="188.4" width="2.4" height="2.4" fill="#e3101c"/>
<rect x="382.4" y="202.2" width="2.4" height="2.4" fill="#e3101c"/>
<rect x="292.8" y="202.8" width="2.4" height="2.4" fill="#2a4da8"/>
<rect x="276.7" y="207.5" width="2.4" height="2.4" fill="#e3101c"/>
<rect x="260.5" y="215.2" width="2.4" height="2.4" fill="#e3101c"/>
<rect x="269.8" y="214.6" width="2.4" height="2.4" fill="#e3101c"/>
<rect x="251.1" y="216.8" width="2.4" height="2.4" fill="#e3101c"/>
<rect x="388.1" y="210.2" width="2.4" height="2.4" fill="#2a4da8"/>
<rect x="367.8" y="215.2" width="2.4" height="2.4" fill="#e3101c"/>
<rect x="400.8" y="220.3" width="2.4" height="2.4" fill="#2a4da8"/>
<rect x="238.8" y="228.7" width="2.4" height="2.4" fill="#2a4da8"/>
<rect x="246.1" y="238.1" width="2.4" height="2.4" fill="#2a4da8"/>
<rect x="447.8" y="226.3" width="2.4" height="2.4" fill="#2a4da8"/>
<rect x="447.8" y="237.1" width="2.4" height="2.4" fill="#2a4da8"/>
<rect x="455.2" y="234.7" width="2.4" height="2.4" fill="#2a4da8"/>
<rect x="359.5" y="220.8" width="2.4" height="2.4" fill="#e3101c"/>
<rect x="304.2" y="215.2" width="2.4" height="2.4" fill="#2a4da8"/>
<rect x="287.4" y="225.3" width="2.4" height="2.4" fill="#e3101c"/>
<path d="M782.6 121 L886.8 121 L949 185 L895 246 L774 246 L726.5 186Z" fill="none" stroke="#000" stroke-width="3.6" stroke-dasharray="11 8"/>
<g filter="url(#sc00)">
<ellipse cx="891" cy="238" rx="39.9" ry="61.2" fill="url(#sd000)"/>
<ellipse cx="777" cy="238" rx="39.9" ry="61.2" fill="url(#sd001)"/>
<ellipse cx="947" cy="176" rx="56.7" ry="57.6" fill="url(#sd002)"/>
<ellipse cx="723" cy="176" rx="56.7" ry="57.6" fill="url(#sd003)"/>
<ellipse cx="889" cy="110" rx="46.2" ry="50.4" fill="url(#sd004)"/>
<ellipse cx="781" cy="116" rx="31.5" ry="46.8" fill="url(#sd005)"/>
<ellipse cx="781" cy="116" rx="24" ry="41.6" fill="url(#sd006)"/>
<ellipse cx="889" cy="110" rx="22" ry="28" fill="url(#sd007)"/>
<ellipse cx="723" cy="176" rx="27" ry="32" fill="url(#sd008)"/>
<ellipse cx="947" cy="176" rx="27" ry="32" fill="url(#sd009)"/>
<ellipse cx="777" cy="238" rx="30.4" ry="54.4" fill="url(#sd0010)"/>
<ellipse cx="891" cy="238" rx="30.4" ry="54.4" fill="url(#sd0011)"/>
<ellipse cx="836" cy="172" rx="140" ry="110" fill="url(#sd0012)"/>
</g>
<g filter="url(#sc01)">
<ellipse cx="861" cy="208" rx="27.2" ry="39" fill="url(#sd010)"/>
<ellipse cx="806" cy="208" rx="27.2" ry="39" fill="url(#sd011)"/>
<ellipse cx="899" cy="172" rx="30.6" ry="42" fill="url(#sd012)"/>
<ellipse cx="771" cy="168" rx="30.6" ry="42" fill="url(#sd013)"/>
<ellipse cx="864" cy="136" rx="32.3" ry="37.5" fill="url(#sd014)"/>
<ellipse cx="806" cy="137" rx="32.3" ry="37.5" fill="url(#sd015)"/>
<ellipse cx="806" cy="137" rx="30.4" ry="40" fill="url(#sd016)"/>
<ellipse cx="864" cy="136" rx="30.4" ry="40" fill="url(#sd017)"/>
<ellipse cx="771" cy="168" rx="28.8" ry="44.8" fill="url(#sd018)"/>
<ellipse cx="899" cy="172" rx="28.8" ry="44.8" fill="url(#sd019)"/>
<ellipse cx="806" cy="208" rx="25.6" ry="41.6" fill="url(#sd0110)"/>
<ellipse cx="861" cy="208" rx="25.6" ry="41.6" fill="url(#sd0111)"/>
<ellipse cx="836" cy="172" rx="95" ry="80" fill="url(#sd0112)"/>
<ellipse cx="836" cy="172" rx="120" ry="105" fill="url(#sd0113)"/>
</g>
<path d="M1268.6 120 L1372.8 120 L1435 184 L1381 245 L1260 245 L1212.5 185Z" fill="none" stroke="#000" stroke-width="3.6" stroke-dasharray="11 8"/>
<g filter="url(#sc10)">
<ellipse cx="1377" cy="240" rx="35.2" ry="58.9" fill="url(#sd100)"/>
<ellipse cx="1265" cy="240" rx="35.2" ry="58.9" fill="url(#sd101)"/>
<ellipse cx="1437" cy="180" rx="26.4" ry="39.9" fill="url(#sd102)"/>
<ellipse cx="1211" cy="180" rx="37.4" ry="51.3" fill="url(#sd103)"/>
<ellipse cx="1383" cy="112" rx="26.4" ry="32.3" fill="url(#sd104)"/>
<ellipse cx="1267" cy="114" rx="33" ry="45.6" fill="url(#sd105)"/>
<ellipse cx="1267" cy="114" rx="21.8" ry="34.8" fill="url(#sd106)"/>
<ellipse cx="1383" cy="112" rx="17.4" ry="24.6" fill="url(#sd107)"/>
<ellipse cx="1211" cy="180" rx="24.6" ry="39.1" fill="url(#sd108)"/>
<ellipse cx="1437" cy="180" rx="17.4" ry="30.4" fill="url(#sd109)"/>
<ellipse cx="1265" cy="240" rx="23.2" ry="44.9" fill="url(#sd1010)"/>
<ellipse cx="1377" cy="240" rx="23.2" ry="44.9" fill="url(#sd1011)"/>
<ellipse cx="1322" cy="178" rx="140" ry="105" fill="url(#sd1012)"/>
</g>
<g filter="url(#sc11)">
<ellipse cx="1352" cy="213" rx="27" ry="40" fill="url(#sd110)"/>
<ellipse cx="1290" cy="213" rx="27" ry="40" fill="url(#sd111)"/>
<ellipse cx="1387" cy="184" rx="30.6" ry="49.6" fill="url(#sd112)"/>
<ellipse cx="1257" cy="180" rx="30.6" ry="49.6" fill="url(#sd113)"/>
<ellipse cx="1354" cy="141" rx="28.8" ry="38.4" fill="url(#sd114)"/>
<ellipse cx="1290" cy="145" rx="28.8" ry="36.8" fill="url(#sd115)"/>
<ellipse cx="1290" cy="145" rx="23.2" ry="33.4" fill="url(#sd116)"/>
<ellipse cx="1354" cy="141" rx="23.2" ry="34.8" fill="url(#sd117)"/>
<ellipse cx="1257" cy="180" rx="24.6" ry="44.9" fill="url(#sd118)"/>
<ellipse cx="1387" cy="184" rx="24.6" ry="44.9" fill="url(#sd119)"/>
<ellipse cx="1290" cy="213" rx="21.8" ry="36.2" fill="url(#sd1110)"/>
<ellipse cx="1352" cy="213" rx="21.8" ry="36.2" fill="url(#sd1111)"/>
<ellipse cx="1322" cy="178" rx="85" ry="75" fill="url(#sd1112)"/>
<ellipse cx="1322" cy="178" rx="110" ry="95" fill="url(#sd1113)"/>
</g>
<g filter="url(#fb0)">
<rect x="95" y="524.5" width="418" height="401.5" fill="#000"/>
<rect x="95" y="524.5" width="418" height="401.5" fill="#fff" opacity="0.0"/>
<ellipse cx="205.5" cy="778.6" rx="130" ry="175" fill="url(#gb00)"/>
<ellipse cx="413.2" cy="788.3" rx="130" ry="185" fill="url(#gb01)"/>
<ellipse cx="204" cy="739.7" rx="118" ry="135" fill="url(#gb02)"/>
<ellipse cx="413.2" cy="739.7" rx="118" ry="145" fill="url(#gb03)"/>
<ellipse cx="204" cy="733.9" rx="72" ry="84" fill="url(#gb04)"/>
<ellipse cx="413.2" cy="733.9" rx="74" ry="92" fill="url(#gb05)"/>
<ellipse cx="199.9" cy="726.1" rx="30" ry="36" fill="url(#gb06)"/>
<ellipse cx="416.9" cy="728.1" rx="28" ry="36" fill="url(#gb07)"/>
</g>
<rect x="95" y="524.5" width="418" height="401.5" fill="none" stroke="#000" stroke-width="1.5"/>
<path d="M110.7 530C115.8 536.2 130.4 552.4 141 567C151.6 581.6 164.4 604.5 174.5 617.4C184.6 630.3 195.2 639.2 201.3 644.3C207.5 649.3 208 647.2 211.4 647.7C214.8 648.2 218.1 648.1 222 647C225.9 645.9 227.2 648.7 235 641C242.8 633.3 258.4 614.1 268.5 600.7C278.6 587.3 286.9 569.4 295.3 560.4C303.7 551.4 311.5 549.8 318.8 547C326.1 544.2 330.6 542.5 339 543.6C347.4 544.7 358.4 548.1 369 553.7C379.6 559.3 392 570.8 402.7 577.2C413.4 583.6 422.9 590.6 433 592.3C443.1 594 454.1 590.3 463 587.2C471.9 584.1 478.4 579.2 486.6 573.8C494.8 568.4 507.8 558.1 512 555" fill="none" stroke="#cfcfcf" stroke-width="3.4" stroke-dasharray="8 6" stroke-linecap="round" clip-path="url(#cb0)"/>
<path d="M100.7 555.7C107.4 563.3 127.6 586.8 141 601.3C154.4 615.8 171 634.4 181 643C191 651.6 195.4 651.3 201 653.2C206.6 655.1 209.1 655.1 214.8 654.4C220.5 653.6 226.1 654.9 235 648.7C243.9 642.5 257.3 630.3 268.5 617C279.7 603.7 293.8 579.8 302 569C310.2 558.2 313.8 555.2 318 552C322.2 548.8 323.7 549.3 327 550C330.3 550.7 333.8 551.5 338 556C342.2 560.5 344.3 567.9 352.3 577C360.3 586.1 375.9 601.4 386 610.7C396.1 620 407 628.9 412.8 633C418.6 637.1 418.2 635.3 421 635.5C423.8 635.7 424.2 637.6 429.5 634C434.8 630.4 443.5 622.3 453 614C462.5 605.7 476.8 593.3 486.6 584C496.4 574.7 507.8 562.3 512 558" fill="none" stroke="#ffffff" stroke-width="3.4" stroke-dasharray="8 6" stroke-linecap="round" clip-path="url(#cb0)"/>
<path d="M114.9 926v4M152.7 926v7M190.4 926v4M228.2 926v7M265.9 926v4M303.7 926v7M341.4 926v4M379.2 926v7M416.9 926v4M454.7 926v7M492.4 926v4M95 924.4h-4M95 875.8h-7M95 827.2h-4M95 778.6h-7M95 730h-4M95 681.4h-7M95 632.8h-4M95 584.2h-7M95 535.6h-4" stroke="#000" stroke-width="1.6" fill="none"/>
<text x="152.7" y="958" text-anchor="middle" font-size="24.2" >-1.4</text>
<text x="228.2" y="958" text-anchor="middle" font-size="24.2" >-1.2</text>
<text x="303.7" y="958" text-anchor="middle" font-size="24.2" >-1.0</text>
<text x="379.2" y="958" text-anchor="middle" font-size="24.2" >-0.8</text>
<text x="454.7" y="958" text-anchor="middle" font-size="24.2" >-0.6</text>
<text x="81.5" y="592.4" text-anchor="end" font-size="23" >2.5</text>
<text x="81.5" y="689.6" text-anchor="end" font-size="23" >2.0</text>
<text x="81.5" y="786.8" text-anchor="end" font-size="23" >1.5</text>
<text x="81.5" y="884" text-anchor="end" font-size="23" >1.0</text>
<text x="254.2" y="1001.6" textLength="91.5" lengthAdjust="spacingAndGlyphs" font-size="35" >k (Å<tspan dy="-15" font-size="23.6">-1</tspan><tspan dy="15">)</tspan></text>
<text transform="translate(32.1 735) rotate(-90)" text-anchor="middle" textLength="172" lengthAdjust="spacingAndGlyphs" font-size="35" >E<tspan dy="8" font-size="24">VB1</tspan><tspan dy="-8">-E (eV)</tspan></text>
<text x="221.3" y="563.8" text-anchor="middle" fill="#fff" textLength="20.5" lengthAdjust="spacingAndGlyphs" font-size="36" >K</text>
<text x="423.7" y="563.8" text-anchor="middle" fill="#fff" textLength="28.6" lengthAdjust="spacingAndGlyphs" font-size="36" >Q</text>
<text x="107.4" y="911" fill="#fff" textLength="87" lengthAdjust="spacingAndGlyphs" font-size="31" >0.3 ps</text>
<text x="98" y="713.1" font-weight="bold" fill="#fff" textLength="27.8" lengthAdjust="spacingAndGlyphs" font-size="32" >E<tspan dy="8.5" font-size="24">x</tspan></text>
<text transform="translate(488 610.5) rotate(90)" fill="#fff" textLength="283" lengthAdjust="spacingAndGlyphs" font-size="29.5" >Non-renormalized CB</text>
<line x1="136" y1="720.4" x2="477" y2="720.4" stroke="#fff" stroke-width="4.4" stroke-dasharray="15 6.5"/>
<g filter="url(#fb1)">
<rect x="609" y="527.5" width="414.5" height="397.5" fill="#000"/>
<rect x="609" y="527.5" width="414.5" height="397.5" fill="#fff" opacity="0.0"/>
<ellipse cx="721.9" cy="779.1" rx="130" ry="175" fill="url(#gb10)"/>
<ellipse cx="922.5" cy="788.8" rx="130" ry="185" fill="url(#gb11)"/>
<ellipse cx="716.2" cy="740.4" rx="115" ry="135" fill="url(#gb12)"/>
<ellipse cx="922.5" cy="740.4" rx="118" ry="145" fill="url(#gb13)"/>
<ellipse cx="716.2" cy="732.7" rx="68" ry="82" fill="url(#gb14)"/>
<ellipse cx="923.3" cy="732.7" rx="70" ry="92" fill="url(#gb15)"/>
<ellipse cx="712.5" cy="728.8" rx="28" ry="34" fill="url(#gb16)"/>
<ellipse cx="927.1" cy="723" rx="30" ry="38" fill="url(#gb17)"/>
</g>
<rect x="609" y="527.5" width="414.5" height="397.5" fill="none" stroke="#000" stroke-width="1.5"/>
<path d="M623 531C628 537.2 642.7 553.4 653.3 568C663.9 582.6 676.8 605.5 686.8 618.4C696.8 631.3 707.4 640.2 713.6 645.3C719.7 650.3 720.2 648.2 723.7 648.7C727.1 649.2 730.4 649.1 734.3 648C738.2 646.9 739.5 649.7 747.3 642C755 634.3 770.8 615.1 780.8 601.7C790.8 588.3 799.2 570.4 807.6 561.4C816 552.4 823.8 550.8 831.1 548C838.4 545.2 842.9 543.5 851.3 544.6C859.7 545.7 870.7 549.1 881.3 554.7C891.9 560.3 904.3 571.8 915 578.2C925.7 584.6 935.2 591.6 945.3 593.3C955.3 595 966.4 591.3 975.3 588.2C984.2 585.1 990.7 580.2 998.9 574.8C1007.1 569.4 1020.1 559.1 1024.3 556" fill="none" stroke="#cfcfcf" stroke-width="3.4" stroke-dasharray="8 6" stroke-linecap="round" clip-path="url(#cb1)"/>
<path d="M613 556.7C619.7 564.3 639.9 587.8 653.3 602.3C666.7 616.8 683.3 635.4 693.3 644C703.3 652.6 707.7 652.3 713.3 654.2C718.9 656.1 721.4 656.1 727.1 655.4C732.8 654.6 738.3 655.9 747.3 649.7C756.2 643.5 769.6 631.3 780.8 618C792 604.7 806 580.8 814.3 570C822.5 559.2 826.1 556.2 830.3 553C834.5 549.8 836 550.3 839.3 551C842.6 551.7 846.1 552.5 850.3 557C854.5 561.5 856.6 568.9 864.6 578C872.6 587.1 888.2 602.4 898.3 611.7C908.4 621 919.3 629.9 925.1 634C930.9 638.1 930.5 636.3 933.3 636.5C936.1 636.7 936.5 638.6 941.8 635C947.1 631.4 955.8 623.3 965.3 615C974.8 606.7 989.1 594.3 998.9 585C1008.7 575.7 1020.1 563.3 1024.3 559" fill="none" stroke="#ffffff" stroke-width="3.4" stroke-dasharray="8 6" stroke-linecap="round" clip-path="url(#cb1)"/>
<path d="M627.8 925v4M665.4 925v7M703 925v4M740.7 925v7M778.3 925v4M816 925v7M853.6 925v4M891.3 925v7M929 925v4M966.6 925v7M1004.2 925v4M609 924.1h-4M609 875.8h-7M609 827.5h-4M609 779.1h-7M609 730.8h-4M609 682.4h-7M609 634h-4M609 585.7h-7M609 537.3h-4" stroke="#000" stroke-width="1.6" fill="none"/>
<text x="665.4" y="957" text-anchor="middle" font-size="24.2" >-1.4</text>
<text x="740.7" y="957" text-anchor="middle" font-size="24.2" >-1.2</text>
<text x="816" y="957" text-anchor="middle" font-size="24.2" >-1.0</text>
<text x="891.3" y="957" text-anchor="middle" font-size="24.2" >-0.8</text>
<text x="966.6" y="957" text-anchor="middle" font-size="24.2" >-0.6</text>
<text x="595.5" y="593.9" text-anchor="end" font-size="23" >2.5</text>
<text x="595.5" y="690.6" text-anchor="end" font-size="23" >2.0</text>
<text x="595.5" y="787.3" text-anchor="end" font-size="23" >1.5</text>
<text x="595.5" y="884" text-anchor="end" font-size="23" >1.0</text>
<text x="775.6" y="994" textLength="91.5" lengthAdjust="spacingAndGlyphs" font-size="35" >k (Å<tspan dy="-15" font-size="23.6">-1</tspan><tspan dy="15">)</tspan></text>
<text transform="translate(548 724.4) rotate(-90)" text-anchor="middle" textLength="172" lengthAdjust="spacingAndGlyphs" font-size="35" >E<tspan dy="8" font-size="24">VB1</tspan><tspan dy="-8">-E (eV)</tspan></text>
<text x="718" y="563.8" text-anchor="middle" fill="#fff" textLength="20.5" lengthAdjust="spacingAndGlyphs" font-size="36" >K</text>
<text x="932.5" y="563.8" text-anchor="middle" fill="#fff" textLength="28.6" lengthAdjust="spacingAndGlyphs" font-size="36" >Q</text>
<text x="632.4" y="906" fill="#fff" textLength="89" lengthAdjust="spacingAndGlyphs" font-size="31" >0.5 ps</text>
<text x="626.5" y="762.9" font-weight="bold" fill="#fff" textLength="26.4" lengthAdjust="spacingAndGlyphs" font-size="32" >E<tspan dy="9.4" font-size="24">x</tspan></text>
<line x1="649" y1="729.2" x2="991" y2="729.2" stroke="#fff" stroke-width="4.4" stroke-dasharray="15 6.5"/>
<g filter="url(#fb2)">
<rect x="1118.5" y="526" width="414" height="397.5" fill="#000"/>
<rect x="1118.5" y="526" width="414" height="397.5" fill="#fff" opacity="0.0"/>
<ellipse cx="1231.4" cy="777.5" rx="120" ry="160" fill="url(#gb20)"/>
<ellipse cx="1426.7" cy="787.2" rx="120" ry="170" fill="url(#gb21)"/>
<ellipse cx="1229.5" cy="734.9" rx="100" ry="120" fill="url(#gb22)"/>
<ellipse cx="1428.6" cy="738.8" rx="100" ry="125" fill="url(#gb23)"/>
<ellipse cx="1229.5" cy="727.2" rx="64" ry="74" fill="url(#gb24)"/>
<ellipse cx="1428.6" cy="732" rx="62" ry="78" fill="url(#gb25)"/>
</g>
<rect x="1118.5" y="526" width="414" height="397.5" fill="none" stroke="#000" stroke-width="1.5"/>
<path d="M1132.3 529.3C1137.3 535.5 1152 551.7 1162.6 566.3C1173.2 580.9 1186 603.8 1196.1 616.7C1206.1 629.6 1216.7 638.5 1222.9 643.6C1229 648.7 1229.5 646.6 1233 647C1236.5 647.5 1239.7 647.4 1243.6 646.3C1247.5 645.2 1248.8 648 1256.6 640.3C1264.3 632.6 1280 613.4 1290.1 600C1300.1 586.6 1308.5 568.7 1316.9 559.7C1325.3 550.8 1333.1 549.1 1340.4 546.3C1347.7 543.5 1352.2 541.8 1360.6 542.9C1369 544 1380 547.4 1390.6 553C1401.2 558.6 1413.6 570.1 1424.3 576.5C1435 582.9 1444.5 589.9 1454.6 591.6C1464.6 593.3 1475.7 589.6 1484.6 586.5C1493.5 583.4 1500 578.5 1508.2 573.1C1516.4 567.7 1529.4 557.4 1533.6 554.3" fill="none" stroke="#cfcfcf" stroke-width="3.4" stroke-dasharray="8 6" stroke-linecap="round" clip-path="url(#cb2)"/>
<path d="M1122.3 555C1129 562.6 1149.2 586.1 1162.6 600.6C1176 615.1 1192.6 633.7 1202.6 642.3C1212.6 651 1217 650.6 1222.6 652.5C1228.2 654.4 1230.7 654.5 1236.4 653.7C1242.1 653 1247.6 654.2 1256.6 648C1265.5 641.8 1278.9 629.6 1290.1 616.3C1301.3 603 1315.3 579.1 1323.6 568.3C1331.8 557.5 1335.4 554.5 1339.6 551.3C1343.8 548.1 1345.3 548.6 1348.6 549.3C1351.9 550 1355.4 550.8 1359.6 555.3C1363.8 559.8 1365.9 567.2 1373.9 576.3C1381.9 585.4 1397.5 600.7 1407.6 610C1417.7 619.3 1428.6 628.2 1434.4 632.3C1440.2 636.4 1439.8 634.6 1442.6 634.8C1445.4 635 1445.8 636.9 1451.1 633.3C1456.4 629.7 1465.1 621.6 1474.6 613.3C1484.1 605 1498.4 592.6 1508.2 583.3C1518 574 1529.4 561.6 1533.6 557.3" fill="none" stroke="#ffffff" stroke-width="3.4" stroke-dasharray="8 6" stroke-linecap="round" clip-path="url(#cb2)"/>
<path d="M1137.5 923.5v4M1175.1 923.5v7M1212.6 923.5v4M1250.2 923.5v7M1287.8 923.5v4M1325.3 923.5v7M1362.8 923.5v4M1400.4 923.5v7M1438 923.5v4M1475.5 923.5v7M1513 923.5v4M1118.5 922.7h-4M1118.5 874.3h-7M1118.5 825.9h-4M1118.5 777.5h-7M1118.5 729.1h-4M1118.5 680.7h-7M1118.5 632.3h-4M1118.5 583.9h-7M1118.5 535.5h-4" stroke="#000" stroke-width="1.6" fill="none"/>
<text x="1175.1" y="955.5" text-anchor="middle" font-size="24.2" >-1.4</text>
<text x="1250.2" y="955.5" text-anchor="middle" font-size="24.2" >-1.2</text>
<text x="1325.3" y="955.5" text-anchor="middle" font-size="24.2" >-1.0</text>
<text x="1400.4" y="955.5" text-anchor="middle" font-size="24.2" >-0.8</text>
<text x="1475.5" y="955.5" text-anchor="middle" font-size="24.2" >-0.6</text>
<text x="1105" y="592.1" text-anchor="end" font-size="23" >2.5</text>
<text x="1105" y="688.9" text-anchor="end" font-size="23" >2.0</text>
<text x="1105" y="785.7" text-anchor="end" font-size="23" >1.5</text>
<text x="1105" y="882.5" text-anchor="end" font-size="23" >1.0</text>
<text x="1287.7" y="993.5" textLength="91.5" lengthAdjust="spacingAndGlyphs" font-size="35" >k (Å<tspan dy="-15" font-size="23.6">-1</tspan><tspan dy="15">)</tspan></text>
<text transform="translate(1055.4 724.4) rotate(-90)" text-anchor="middle" textLength="172" lengthAdjust="spacingAndGlyphs" font-size="35" >E<tspan dy="8" font-size="24">VB1</tspan><tspan dy="-8">-E (eV)</tspan></text>
<text x="1232.2" y="563.8" text-anchor="middle" fill="#fff" textLength="20.5" lengthAdjust="spacingAndGlyphs" font-size="36" >K</text>
<text x="1451.8" y="563.8" text-anchor="middle" fill="#fff" textLength="28.6" lengthAdjust="spacingAndGlyphs" font-size="36" >Q</text>
<text x="1135.7" y="906" fill="#fff" textLength="85.6" lengthAdjust="spacingAndGlyphs" font-size="31" >1.5 ps</text>
<line x1="1154" y1="729.9" x2="1294" y2="729.9" stroke="#fff" stroke-width="4.4" stroke-dasharray="15 6.5"/>
<line x1="1360.5" y1="733.9" x2="1499" y2="733.9" stroke="#fff" stroke-width="4.4" stroke-dasharray="15 6.5"/>
<text x="55" y="1020" textLength="49.5" lengthAdjust="spacingAndGlyphs" font-size="42" >(c)</text>
<path d="M200 1269 L201.5 1269 L203 1269 L204.5 1269 L206 1269 L207.5 1269 L209 1269 L210.5 1269 L212 1269 L213.5 1269 L215 1268.9 L216.5 1268.9 L218 1268.9 L219.5 1268.8 L221 1268.7 L222.5 1268.6 L224 1268.4 L225.5 1268.1 L227 1267.8 L228.5 1267.3 L230 1266.6 L231.5 1265.7 L233 1264.5 L234.5 1263 L236 1261 L237.5 1258.6 L239 1255.5 L240.5 1251.7 L242 1247.2 L243.5 1241.7 L245 1235.2 L246.5 1227.7 L248 1219.1 L249.5 1209.4 L251 1198.6 L252.5 1186.7 L254 1174 L255.5 1160.6 L257 1146.8 L258.5 1132.7 L260 1118.7 L261.5 1105.2 L263 1092.5 L264.5 1081 L266 1071 L267.5 1062.9 L269 1056.9 L270.5 1053.2 L272 1052 L273.5 1052.9 L275 1055.6 L276.5 1059.9 L278 1065.9 L279.5 1073.3 L281 1082 L282.5 1091.8 L284 1102.4 L285.5 1113.7 L287 1125.5 L288.5 1137.4 L290 1149.3 L291.5 1161.1 L293 1172.5 L294.5 1183.4 L296 1193.7 L297.5 1203.3 L299 1212.1 L300.5 1220.2 L302 1227.4 L303.5 1233.9 L305 1239.6 L306.5 1244.6 L308 1248.9 L309.5 1252.6 L311 1255.7 L312.5 1258.3 L314 1260.5 L315.5 1262.3 L317 1263.7 L318.5 1264.9 L320 1265.8 L321.5 1266.6 L323 1267.2 L324.5 1267.6 L326 1268 L327.5 1268.2 L329 1268.4Z" fill="url(#gg)"/>
<path d="M212 1541 L213.5 1541 L215 1541 L216.5 1541 L218 1541 L219.5 1540.9 L221 1540.9 L222.5 1540.8 L224 1540.7 L225.5 1540.6 L227 1540.4 L228.5 1540.1 L230 1539.7 L231.5 1539.1 L233 1538.3 L234.5 1537.2 L236 1535.8 L237.5 1533.9 L239 1531.4 L240.5 1528.3 L242 1524.4 L243.5 1519.6 L245 1513.7 L246.5 1506.7 L248 1498.5 L249.5 1488.9 L251 1478.1 L252.5 1466.1 L254 1452.9 L255.5 1438.8 L257 1424 L258.5 1408.8 L260 1393.6 L261.5 1378.8 L263 1365 L264.5 1352.4 L266 1341.7 L267.5 1333.1 L269 1327 L270.5 1323.6 L272 1323.1 L273.5 1324.8 L275 1328.5 L276.5 1334.1 L278 1341.4 L279.5 1350.2 L281 1360.3 L282.5 1371.5 L284 1383.5 L285.5 1396 L287 1408.8 L288.5 1421.5 L290 1434.1 L291.5 1446.2 L293 1457.7 L294.5 1468.5 L296 1478.5 L297.5 1487.6 L299 1495.8 L300.5 1503.1 L302 1509.5 L303.5 1515.1 L305 1519.9 L306.5 1524 L308 1527.4 L309.5 1530.2 L311 1532.5 L312.5 1534.4 L314 1535.9 L315.5 1537.1 L317 1538.1 L318.5 1538.8 L320 1539.4 L321.5 1539.8 L323 1540.1 L324.5 1540.4 L326 1540.5 L327.5 1540.7 L329 1540.8 L330.5 1540.8 L332 1540.9Z" fill="url(#gg)"/>
<path d="M122.6 1027.4H893.3V1567.4H122.6ZM122.6 1296.8H893.3" fill="none" stroke="#000" stroke-width="2.2"/>
<path d="M122.6 1267h-9.5M122.6 1192.1h-5M122.6 1117.2h-9.5M122.6 1042.3h-5M122.6 1567.4h-9.5M122.6 1541.4h-5M122.6 1515.4h-9.5M122.6 1489.4h-5M122.6 1463.4h-9.5M122.6 1437.5h-5M122.6 1411.5h-9.5M122.6 1385.5h-5M122.6 1359.5h-9.5M122.6 1333.5h-5M122.6 1307.5h-9.5M121.9 1567.4v9.5M198.9 1567.4v5M276 1567.4v9.5M353.1 1567.4v5M430.1 1567.4v9.5M507.2 1567.4v5M584.3 1567.4v9.5M661.3 1567.4v5M738.4 1567.4v9.5M815.5 1567.4v5M892.6 1567.4v9.5" stroke="#000" stroke-width="2" fill="none"/>
<text x="102.5" y="1275.6" text-anchor="end" font-size="26" >0</text>
<text x="102.5" y="1125.8" text-anchor="end" font-size="26" >5</text>
<text x="105.9" y="1316.2" text-anchor="end" textLength="53.4" lengthAdjust="spacingAndGlyphs" font-size="26.5" >1.95</text>
<text x="105.9" y="1368.2" text-anchor="end" textLength="53.4" lengthAdjust="spacingAndGlyphs" font-size="26.5" >1.90</text>
<text x="105.9" y="1420.2" text-anchor="end" textLength="53.4" lengthAdjust="spacingAndGlyphs" font-size="26.5" >1.85</text>
<text x="105.9" y="1472.1" text-anchor="end" textLength="53.4" lengthAdjust="spacingAndGlyphs" font-size="26.5" >1.80</text>
<text x="105.9" y="1524.1" text-anchor="end" textLength="53.4" lengthAdjust="spacingAndGlyphs" font-size="26.5" >1.75</text>
<text x="105.9" y="1576.1" text-anchor="end" textLength="53.4" lengthAdjust="spacingAndGlyphs" font-size="26.5" >1.70</text>
<text x="117.9" y="1610.5" text-anchor="middle" font-size="32.5" >-1</text>
<text x="276" y="1610.5" text-anchor="middle" font-size="32.5" >0</text>
<text x="430.1" y="1610.5" text-anchor="middle" font-size="32.5" >1</text>
<text x="584.3" y="1610.5" text-anchor="middle" font-size="32.5" >2</text>
<text x="738.4" y="1610.5" text-anchor="middle" font-size="32.5" >3</text>
<text x="892.6" y="1610.5" text-anchor="middle" font-size="32.5" >4</text>
<text x="508.3" y="1646" text-anchor="middle" textLength="224" lengthAdjust="spacingAndGlyphs" font-size="32.5" >Time delay (ps)</text>
<text transform="translate(36.5 1164.8) rotate(-90)" text-anchor="middle" textLength="299" lengthAdjust="spacingAndGlyphs" font-size="35" >Exciton density (a.u.)</text>
<text transform="translate(32.4 1430.7) rotate(-90)" text-anchor="middle" textLength="162.5" lengthAdjust="spacingAndGlyphs" font-size="33" >E<tspan dy="8" font-size="22">VB1</tspan><tspan dy="-8">-E (eV)</tspan></text>
<path d="M277.5 1306.5V1368.8M273.5 1306.5h8M273.5 1368.8h8M292.9 1426V1488.4M288.9 1426h8M288.9 1488.4h8M308.3 1429.1V1491.5M304.3 1429.1h8M304.3 1491.5h8M323.7 1458.2V1520.6M319.7 1458.2h8M319.7 1520.6h8M339.2 1451V1513.3M335.2 1451h8M335.2 1513.3h8M354.6 1469.7V1532.1M350.6 1469.7h8M350.6 1532.1h8M370 1484.2V1546.6M366 1484.2h8M366 1546.6h8M385.4 1485.3V1547.6M381.4 1485.3h8M381.4 1547.6h8M539.5 1490.5V1552.8M535.5 1490.5h8M535.5 1552.8h8M847.8 1497.7V1560.1M843.8 1497.7h8M843.8 1560.1h8" stroke="#e88080" stroke-width="1.3" fill="none"/>
<path d="M274.5 1352.2V1414.6M270.5 1352.2h8M270.5 1414.6h8M289.9 1437.5V1499.8M285.9 1437.5h8M285.9 1499.8h8M305.3 1437.5V1499.8M301.3 1437.5h8M301.3 1499.8h8M320.7 1464.5V1526.9M316.7 1464.5h8M316.7 1526.9h8M336.2 1461.4V1523.7M332.2 1461.4h8M332.2 1523.7h8M351.6 1467.6V1530M347.6 1467.6h8M347.6 1530h8M367 1479V1541.4M363 1479h8M363 1541.4h8M382.4 1481.1V1543.5M378.4 1481.1h8M378.4 1543.5h8M536.5 1480.1V1542.4M532.5 1480.1h8M532.5 1542.4h8M844.8 1481.1V1543.5M840.8 1481.1h8M840.8 1543.5h8" stroke="#8a8ac8" stroke-width="1.3" fill="none"/>
<path d="M245.2 1265.8 L260.6 1262.2 L276 1255.3 L291.4 1245.7 L306.8 1242.7 L322.2 1238.5 L337.7 1231.6 L353.1 1233.1 L368.5 1231.9 L383.9 1233.1 L538 1253.5 L846.3 1257.7" stroke="#8c8cc8" stroke-width="1.4" fill="none"/>
<path d="M245.2 1260.1 L260.6 1237.3 L276 1177.1 L291.4 1099.8 L306.8 1093.8 L322.2 1061.8 L337.7 1061.8 L353.1 1083 L368.5 1090.2 L383.9 1099.8 L538 1221.5 L846.3 1237.3" stroke="#e87070" stroke-width="1.4" fill="none"/>
<path d="M276 1383.4 L291.4 1468.6 L306.8 1468.6 L322.2 1495.7 L337.7 1492.5 L353.1 1498.8 L368.5 1510.2 L383.9 1512.3 L538 1511.3 L846.3 1512.3" stroke="#8c8cc8" stroke-width="1.4" fill="none"/>
<path d="M276 1337.6 L291.4 1457.2 L306.8 1460.3 L322.2 1489.4 L337.7 1482.2 L353.1 1500.9 L368.5 1515.4 L383.9 1516.5 L538 1521.7 L846.3 1528.9" stroke="#e87070" stroke-width="1.4" fill="none"/>
<rect x="240.9" y="1261.5" width="8.6" height="8.6" fill="#fff" stroke="#1e2f8c" stroke-width="2.3"/>
<rect x="256.3" y="1257.9" width="8.6" height="8.6" fill="#fff" stroke="#1e2f8c" stroke-width="2.3"/>
<rect x="271.7" y="1251" width="8.6" height="8.6" fill="#fff" stroke="#1e2f8c" stroke-width="2.3"/>
<rect x="287.1" y="1241.4" width="8.6" height="8.6" fill="#fff" stroke="#1e2f8c" stroke-width="2.3"/>
<rect x="302.5" y="1238.4" width="8.6" height="8.6" fill="#fff" stroke="#1e2f8c" stroke-width="2.3"/>
<rect x="317.9" y="1234.2" width="8.6" height="8.6" fill="#fff" stroke="#1e2f8c" stroke-width="2.3"/>
<rect x="333.4" y="1227.3" width="8.6" height="8.6" fill="#fff" stroke="#1e2f8c" stroke-width="2.3"/>
<rect x="348.8" y="1228.8" width="8.6" height="8.6" fill="#fff" stroke="#1e2f8c" stroke-width="2.3"/>
<rect x="364.2" y="1227.6" width="8.6" height="8.6" fill="#fff" stroke="#1e2f8c" stroke-width="2.3"/>
<rect x="379.6" y="1228.8" width="8.6" height="8.6" fill="#fff" stroke="#1e2f8c" stroke-width="2.3"/>
<rect x="533.7" y="1249.2" width="8.6" height="8.6" fill="#fff" stroke="#1e2f8c" stroke-width="2.3"/>
<rect x="842" y="1253.4" width="8.6" height="8.6" fill="#fff" stroke="#1e2f8c" stroke-width="2.3"/>
<circle cx="245.2" cy="1260.1" r="5.3" fill="#fff" stroke="#d7141e" stroke-width="2.5"/>
<circle cx="260.6" cy="1237.3" r="5.3" fill="#fff" stroke="#d7141e" stroke-width="2.5"/>
<circle cx="276" cy="1177.1" r="5.3" fill="#fff" stroke="#d7141e" stroke-width="2.5"/>
<circle cx="291.4" cy="1099.8" r="5.3" fill="#fff" stroke="#d7141e" stroke-width="2.5"/>
<circle cx="306.8" cy="1093.8" r="5.3" fill="#fff" stroke="#d7141e" stroke-width="2.5"/>
<circle cx="322.2" cy="1061.8" r="5.3" fill="#fff" stroke="#d7141e" stroke-width="2.5"/>
<circle cx="337.7" cy="1061.8" r="5.3" fill="#fff" stroke="#d7141e" stroke-width="2.5"/>
<circle cx="353.1" cy="1083" r="5.3" fill="#fff" stroke="#d7141e" stroke-width="2.5"/>
<circle cx="368.5" cy="1090.2" r="5.3" fill="#fff" stroke="#d7141e" stroke-width="2.5"/>
<circle cx="383.9" cy="1099.8" r="5.3" fill="#fff" stroke="#d7141e" stroke-width="2.5"/>
<circle cx="538" cy="1221.5" r="5.3" fill="#fff" stroke="#d7141e" stroke-width="2.5"/>
<circle cx="846.3" cy="1237.3" r="5.3" fill="#fff" stroke="#d7141e" stroke-width="2.5"/>
<rect x="271.7" y="1379.1" width="8.6" height="8.6" fill="#fff" stroke="#1e2f8c" stroke-width="2.3"/>
<rect x="287.1" y="1464.3" width="8.6" height="8.6" fill="#fff" stroke="#1e2f8c" stroke-width="2.3"/>
<rect x="302.5" y="1464.3" width="8.6" height="8.6" fill="#fff" stroke="#1e2f8c" stroke-width="2.3"/>
<rect x="317.9" y="1491.4" width="8.6" height="8.6" fill="#fff" stroke="#1e2f8c" stroke-width="2.3"/>
<rect x="333.4" y="1488.2" width="8.6" height="8.6" fill="#fff" stroke="#1e2f8c" stroke-width="2.3"/>
<rect x="348.8" y="1494.5" width="8.6" height="8.6" fill="#fff" stroke="#1e2f8c" stroke-width="2.3"/>
<rect x="364.2" y="1505.9" width="8.6" height="8.6" fill="#fff" stroke="#1e2f8c" stroke-width="2.3"/>
<rect x="379.6" y="1508" width="8.6" height="8.6" fill="#fff" stroke="#1e2f8c" stroke-width="2.3"/>
<rect x="533.7" y="1507" width="8.6" height="8.6" fill="#fff" stroke="#1e2f8c" stroke-width="2.3"/>
<rect x="842" y="1508" width="8.6" height="8.6" fill="#fff" stroke="#1e2f8c" stroke-width="2.3"/>
<circle cx="276" cy="1337.6" r="5.3" fill="#fff" stroke="#d7141e" stroke-width="2.5"/>
<circle cx="291.4" cy="1457.2" r="5.3" fill="#fff" stroke="#d7141e" stroke-width="2.5"/>
<circle cx="306.8" cy="1460.3" r="5.3" fill="#fff" stroke="#d7141e" stroke-width="2.5"/>
<circle cx="322.2" cy="1489.4" r="5.3" fill="#fff" stroke="#d7141e" stroke-width="2.5"/>
<circle cx="337.7" cy="1482.2" r="5.3" fill="#fff" stroke="#d7141e" stroke-width="2.5"/>
<circle cx="353.1" cy="1500.9" r="5.3" fill="#fff" stroke="#d7141e" stroke-width="2.5"/>
<circle cx="368.5" cy="1515.4" r="5.3" fill="#fff" stroke="#d7141e" stroke-width="2.5"/>
<circle cx="383.9" cy="1516.5" r="5.3" fill="#fff" stroke="#d7141e" stroke-width="2.5"/>
<circle cx="538" cy="1521.7" r="5.3" fill="#fff" stroke="#d7141e" stroke-width="2.5"/>
<circle cx="846.3" cy="1528.9" r="5.3" fill="#fff" stroke="#d7141e" stroke-width="2.5"/>
<line x1="582.4" y1="1072.7" x2="654.6" y2="1072.7" stroke="#9a9ad0" stroke-width="1.4" />
<rect x="614.2" y="1068.4" width="8.6" height="8.6" fill="#fff" stroke="#1e2f8c" stroke-width="2.3"/>
<line x1="582.4" y1="1112.3" x2="654.6" y2="1112.3" stroke="#f09a9a" stroke-width="1.4" />
<circle cx="618.5" cy="1112.3" r="5.3" fill="#fff" stroke="#d7141e" stroke-width="2.5"/>
<text x="665.4" y="1084" textLength="207" lengthAdjust="spacingAndGlyphs" font-size="31" >K-valley signal</text>
<text x="665.4" y="1123.3" textLength="210" lengthAdjust="spacingAndGlyphs" font-size="31" >Q-valley signal</text>
<rect x="538" y="1297.5" width="355.3" height="147.5" fill="#fff" stroke="#000" stroke-width="1.6"/>
<path d="M536.2 1445v3.5M577 1445v6M617.8 1445v3.5M658.5 1445v6M699.2 1445v3.5M740 1445v6M780.8 1445v3.5M821.5 1445v6M862.2 1445v3.5M538 1437.5h-3.5M538 1412.3h-6M538 1387.1h-3.5M538 1361.9h-6M538 1336.7h-3.5M538 1311.5h-6" stroke="#000" stroke-width="1.5" fill="none"/>
<line x1="539" y1="1387.1" x2="890.3" y2="1387.1" stroke="#777" stroke-width="2" stroke-dasharray="14 14"/>
<path d="M577 1441 L585.1 1437.5 L593.3 1437 L601.5 1433 L609.6 1433 L617.8 1428.3 L625.9 1428 L707.4 1411 L868.8 1408" stroke="#138a2e" stroke-width="2.6" fill="none"/>
<path d="M577 1434.5l6.5 10.5h-13ZM585.1 1431l6.5 10.5h-13ZM593.3 1430.5l6.5 10.5h-13ZM601.5 1426.5l6.5 10.5h-13ZM609.6 1426.5l6.5 10.5h-13ZM617.8 1421.8l6.5 10.5h-13ZM625.9 1421.5l6.5 10.5h-13ZM707.4 1404.5l6.5 10.5h-13ZM868.8 1401.5l6.5 10.5h-13Z" fill="#138a2e"/>
<text x="577" y="1474.4" text-anchor="middle" font-weight="bold" textLength="15.5" lengthAdjust="spacingAndGlyphs" font-size="24.3" >0</text>
<text x="658.5" y="1474.4" text-anchor="middle" font-weight="bold" textLength="15.5" lengthAdjust="spacingAndGlyphs" font-size="24.3" >1</text>
<text x="740" y="1474.4" text-anchor="middle" font-weight="bold" textLength="15.5" lengthAdjust="spacingAndGlyphs" font-size="24.3" >2</text>
<text x="821.5" y="1474.4" text-anchor="middle" font-weight="bold" textLength="15.5" lengthAdjust="spacingAndGlyphs" font-size="24.3" >3</text>
<text x="525.8" y="1420.5" text-anchor="end" font-weight="bold" textLength="38.7" lengthAdjust="spacingAndGlyphs" font-size="24.3" >0.3</text>
<text x="525.8" y="1370.1" text-anchor="end" font-weight="bold" textLength="38.7" lengthAdjust="spacingAndGlyphs" font-size="24.3" >0.6</text>
<text x="525.8" y="1319.7" text-anchor="end" font-weight="bold" textLength="38.7" lengthAdjust="spacingAndGlyphs" font-size="24.3" >0.9</text>
<text transform="translate(476 1371.5) rotate(-90)" text-anchor="middle" textLength="135" lengthAdjust="spacingAndGlyphs" font-size="28" >Ratio K/Q</text>
<text x="913" y="1019" textLength="51" lengthAdjust="spacingAndGlyphs" font-size="41" >(d)</text>
<g clip-path="url(#cd0)"><g filter="url(#fd0)">
<rect x="993.8" y="995.8" width="573.9" height="317" fill="#000"/>
<path d="M1085 1058L1560 1085L1560 1232L1085 1238C1011.7 1238 1011.7 1058 1085 1058Z" fill="#212121"/>
<path d="M1095 1070L1560 1096L1560 1212L1095 1218C1037.7 1218 1037.7 1070 1095 1070Z" fill="#404040"/>
<path d="M1110 1080L1560 1104L1560 1204L1110 1208C1056.7 1208 1056.7 1080 1110 1080Z" fill="#595959"/>
<path d="M1120 1088L1560 1108L1560 1198L1120 1200C1074.7 1200 1074.7 1088 1120 1088Z" fill="#666666"/>
<path d="M1140 1100L1560 1110L1560 1190L1140 1186C1097.3 1186 1097.3 1100 1140 1100Z" fill="#757575"/>
<path d="M1200 1103L1560 1113L1560 1185L1200 1190C1173.3 1190 1173.3 1103 1200 1103Z" fill="#8c8c8c"/>
<path d="M1206 1118C1311.3 1119 1393.2 1140 1440 1144C1393.2 1148 1311.3 1165 1206 1166ZM1206 1166C1192.7 1166 1192.7 1118 1206 1118Z" fill="#a3a3a3"/>
<path d="M1210 1126C1293.2 1127 1358 1139 1395 1143C1358 1147 1293.2 1158 1210 1159ZM1210 1159C1199.3 1159 1199.3 1126 1210 1126Z" fill="#bbbbbb"/>
</g></g>
<rect x="1013.8" y="1015.8" width="533.9" height="277" fill="none" stroke="#000" stroke-width="1.6"/>
<g clip-path="url(#cd1)"><g filter="url(#fd1)">
<rect x="993.8" y="1282.3" width="573.9" height="318.2" fill="#000"/>
<path d="M1080 1318L1560 1380L1560 1522L1080 1524C1013.3 1524 1013.3 1318 1080 1318Z" fill="#212121"/>
<path d="M1090 1330L1560 1392L1560 1508L1090 1512C1034 1512 1034 1330 1090 1330Z" fill="#424242"/>
<path d="M1100 1344L1560 1400L1560 1498L1100 1502C1046.7 1502 1046.7 1344 1100 1344Z" fill="#5e5e5e"/>
<path d="M1100 1354L1560 1404L1560 1490L1100 1494C1062.7 1494 1062.7 1354 1100 1354Z" fill="#737373"/>
<path d="M1110 1362L1560 1410L1560 1482L1110 1486C1072.7 1486 1072.7 1362 1110 1362Z" fill="#8c8c8c"/>
<path d="M1195 1396C1300.8 1397 1383 1428 1430 1432C1383 1436 1300.8 1463 1195 1464ZM1195 1464C1172.3 1464 1172.3 1396 1195 1396Z" fill="#a3a3a3"/>
<path d="M1198 1402C1270.9 1403 1327.6 1426 1360 1430C1327.6 1434 1270.9 1457 1198 1458ZM1198 1458C1179.3 1458 1179.3 1402 1198 1402Z" fill="#bdbdbd"/>
<path d="M1200 1406C1247.2 1407 1284 1425 1305 1429C1284 1433 1247.2 1452 1200 1453ZM1200 1453C1185.3 1453 1185.3 1406 1200 1406Z" fill="#d6d6d6"/>
<path d="M1204 1411C1230.1 1412 1250.4 1424 1262 1428C1250.4 1432 1230.1 1446 1204 1447ZM1204 1447C1192 1447 1192 1411 1204 1411Z" fill="#f2f2f2"/>
</g></g>
<rect x="1013.8" y="1302.3" width="533.9" height="278.2" fill="none" stroke="#000" stroke-width="1.6"/>
<line x1="1113.8" y1="1016.8" x2="1113.8" y2="1588.5" stroke="#e0202c" stroke-width="3.2" stroke-dasharray="13 10" stroke-dashoffset="2"/>
<line x1="1211.5" y1="1016.8" x2="1211.5" y2="1578.5" stroke="#ffffff" stroke-width="3.6" stroke-dasharray="14 10.4" stroke-dashoffset="16.4"/>
<rect x="1014.8" y="1293.8" width="532.9" height="7.5" fill="#fff"/>
<path d="M1013.8 1292.8h-8M1013.8 1200.3h-4.5M1013.8 1107.8h-8M1013.8 1015.3h-4.5M1013.8 1580.5h-8M1013.8 1488h-4.5M1013.8 1395.5h-8M1013.8 1303h-4.5M1013.8 1580.5v4M1047.1 1580.5v6M1080.5 1580.5v4M1113.8 1580.5v6M1147.1 1580.5v4M1180.5 1580.5v6M1213.8 1580.5v4M1247.2 1580.5v6M1280.5 1580.5v4M1313.9 1580.5v6M1347.2 1580.5v4M1380.6 1580.5v6M1414 1580.5v4M1447.3 1580.5v6M1480.7 1580.5v4M1514 1580.5v6M1547.3 1580.5v4" stroke="#000" stroke-width="1.8" fill="none"/>
<text x="997.7" y="1116.3" text-anchor="end" font-size="23.7" >2</text>
<text x="997.7" y="1301.3" text-anchor="end" font-size="23.7" >1</text>
<text x="997.7" y="1404" text-anchor="end" font-size="23.7" >2</text>
<text x="997.7" y="1589" text-anchor="end" font-size="23.7" >1</text>
<text x="1047.1" y="1607.4" text-anchor="middle" font-size="22.5" >-0.2</text>
<text x="1113.8" y="1607.4" text-anchor="middle" font-size="22.5" >0.0</text>
<text x="1180.5" y="1607.4" text-anchor="middle" font-size="22.5" >0.2</text>
<text x="1247.2" y="1607.4" text-anchor="middle" font-size="22.5" >0.4</text>
<text x="1313.9" y="1607.4" text-anchor="middle" font-size="22.5" >0.6</text>
<text x="1380.6" y="1607.4" text-anchor="middle" font-size="22.5" >0.8</text>
<text x="1447.3" y="1607.4" text-anchor="middle" font-size="22.5" >1.0</text>
<text x="1514" y="1607.4" text-anchor="middle" font-size="22.5" >1.2</text>
<text x="1280.6" y="1636.4" text-anchor="middle" textLength="228.5" lengthAdjust="spacingAndGlyphs" font-size="32.4" >Time delay (ps)</text>
<text transform="translate(959.5 1155) rotate(-90)" text-anchor="middle" textLength="164" lengthAdjust="spacingAndGlyphs" font-size="33" >E<tspan dy="8" font-size="22">VB1</tspan><tspan dy="-8">-E (eV)</tspan></text>
<text transform="translate(959.5 1443) rotate(-90)" text-anchor="middle" textLength="164" lengthAdjust="spacingAndGlyphs" font-size="33" >E<tspan dy="8" font-size="22">VB1</tspan><tspan dy="-8">-E (eV)</tspan></text>
<text x="1284" y="1056" fill="#fff" textLength="237.6" lengthAdjust="spacingAndGlyphs" font-size="36" >K-valley signal</text>
<text x="1289" y="1342.5" fill="#fff" textLength="241.5" lengthAdjust="spacingAndGlyphs" font-size="36" >Q-valley signal</text>
<text x="1047.9" y="1043.5" font-weight="bold" fill="#e8202a" textLength="138.4" lengthAdjust="spacingAndGlyphs" font-size="28.5" >Zero delay</text>
<path d="M1113.5 1192.3H1200M1116 1366.3H1200" stroke="#000" stroke-width="5.4" fill="none"/>
<path d="M1197.5 1184.8L1213 1192.3L1197.5 1199.8ZM1197.5 1358.8L1213 1366.3L1197.5 1373.8Z" fill="#000"/>
<text transform="translate(1172.4 1209.4) rotate(90)" font-weight="bold" textLength="104.3" lengthAdjust="spacingAndGlyphs" font-size="32" >Exciton</text>
<text transform="translate(1128.4 1207) rotate(90)" font-weight="bold" textLength="150.4" lengthAdjust="spacingAndGlyphs" font-size="32" >formation</text>
</svg>
</body></html>
